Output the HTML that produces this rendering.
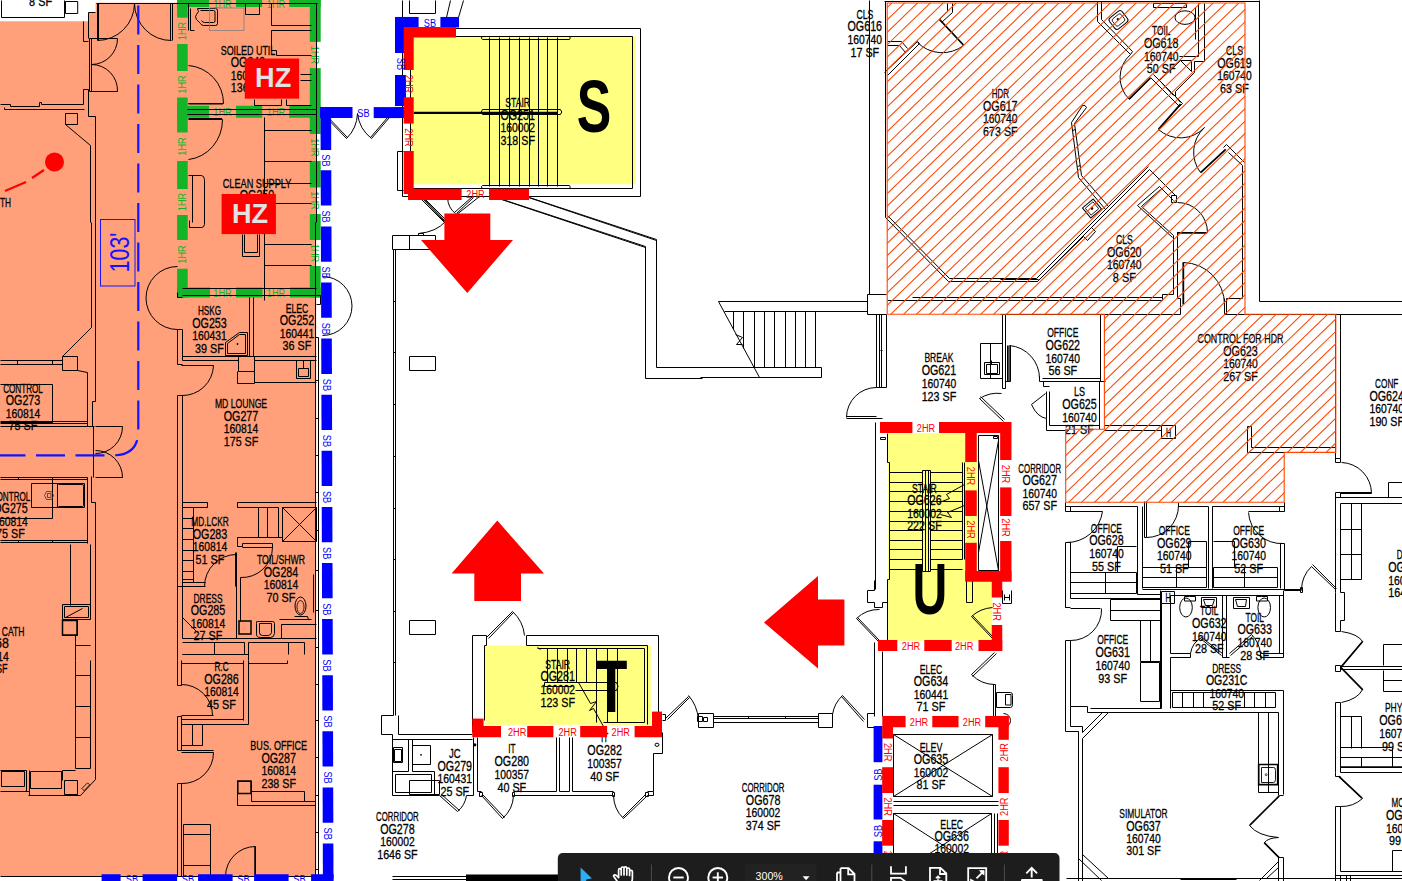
<!DOCTYPE html>
<html><head><meta charset="utf-8"><title>Floor plan</title>
<style>
html,body{margin:0;padding:0;background:#fff;overflow:hidden}
svg{display:block;font-family:"Liberation Sans",sans-serif}
</style></head><body>
<svg width="1402" height="881" viewBox="0 0 1402 881">
<defs>
<pattern id="hatch" patternUnits="userSpaceOnUse" width="12" height="12" x="0.9" y="0">
<path d="M-1 13 L13 -1 M-1 1 L1 -1 M11 13 L13 11" stroke="#ff4408" stroke-width="1" fill="none"/>
</pattern>
</defs>
<g id="p00_fills">
<polygon points="0,21.2 88,21.2 88,12.8 95.6,12.8 95.6,2.8 177,2.8 177,0 316.2,0 316.2,876.3 0,876.3" fill="#ffa07a" stroke="none" stroke-width="0" />
<rect x="410" y="36.2" width="225.8" height="148.1" fill="#ffff80" />
<rect x="484.8" y="645.5" width="166" height="79.3" fill="#ffff80" />
<rect x="888" y="433" width="104.2" height="207.7" fill="#ffff80" />
<rect x="976.8" y="433" width="23.4" height="138" fill="#fff" />
</g>
<g id="p05_green">
<line x1="182.4" y1="4.3" x2="182.4" y2="17.7" stroke="#14b428" stroke-width="10.6" />
<line x1="182.4" y1="44" x2="182.4" y2="71" stroke="#14b428" stroke-width="10.6" />
<line x1="182.4" y1="97.5" x2="182.4" y2="132.5" stroke="#14b428" stroke-width="10.6" />
<line x1="182.4" y1="161" x2="182.4" y2="189" stroke="#14b428" stroke-width="10.6" />
<line x1="182.4" y1="215" x2="182.4" y2="240" stroke="#14b428" stroke-width="10.6" />
<line x1="182.4" y1="268.7" x2="182.4" y2="297.5" stroke="#14b428" stroke-width="10.6" />
<line x1="315.25" y1="0" x2="315.25" y2="41.9" stroke="#14b428" stroke-width="10.9" />
<line x1="315.25" y1="68.1" x2="315.25" y2="134" stroke="#14b428" stroke-width="10.9" />
<line x1="315.25" y1="161" x2="315.25" y2="187.5" stroke="#14b428" stroke-width="10.9" />
<line x1="315.25" y1="214" x2="315.25" y2="240" stroke="#14b428" stroke-width="10.9" />
<line x1="315.25" y1="266" x2="315.25" y2="297.5" stroke="#14b428" stroke-width="10.9" />
<line x1="177.1" y1="3.5" x2="209.1" y2="3.5" stroke="#14b428" stroke-width="7" />
<line x1="236" y1="3.5" x2="262.2" y2="3.5" stroke="#14b428" stroke-width="7" />
<line x1="289.2" y1="3.5" x2="320.7" y2="3.5" stroke="#14b428" stroke-width="7" />
<line x1="177.1" y1="111.75" x2="209.1" y2="111.75" stroke="#14b428" stroke-width="12" />
<line x1="236" y1="111.75" x2="262.2" y2="111.75" stroke="#14b428" stroke-width="12" />
<line x1="289.2" y1="111.75" x2="320.7" y2="111.75" stroke="#14b428" stroke-width="12" />
<line x1="177.1" y1="292.5" x2="210" y2="292.5" stroke="#14b428" stroke-width="10" />
<line x1="236" y1="292.5" x2="262.5" y2="292.5" stroke="#14b428" stroke-width="10" />
<line x1="290" y1="292.5" x2="320.7" y2="292.5" stroke="#14b428" stroke-width="10" />
<text transform="translate(222.5 7.5) scale(0.8 1)" font-size="11.5" fill="#14b428" text-anchor="middle" font-weight="normal" >1HR</text>
<text transform="translate(222.5 115.75) scale(0.8 1)" font-size="11.5" fill="#14b428" text-anchor="middle" font-weight="normal" >1HR</text>
<text transform="translate(222.5 296.5) scale(0.8 1)" font-size="11.5" fill="#14b428" text-anchor="middle" font-weight="normal" >1HR</text>
<text transform="translate(276 7.5) scale(0.8 1)" font-size="11.5" fill="#14b428" text-anchor="middle" font-weight="normal" >1HR</text>
<text transform="translate(276 115.75) scale(0.8 1)" font-size="11.5" fill="#14b428" text-anchor="middle" font-weight="normal" >1HR</text>
<text transform="translate(276 296.5) scale(0.8 1)" font-size="11.5" fill="#14b428" text-anchor="middle" font-weight="normal" >1HR</text>
<text transform="translate(186.4 31) rotate(-90) scale(0.8 1)" font-size="11.5" fill="#14b428" text-anchor="middle" font-weight="normal" >1HR</text>
<text transform="translate(186.4 84.5) rotate(-90) scale(0.8 1)" font-size="11.5" fill="#14b428" text-anchor="middle" font-weight="normal" >1HR</text>
<text transform="translate(186.4 146.5) rotate(-90) scale(0.8 1)" font-size="11.5" fill="#14b428" text-anchor="middle" font-weight="normal" >1HR</text>
<text transform="translate(186.4 202) rotate(-90) scale(0.8 1)" font-size="11.5" fill="#14b428" text-anchor="middle" font-weight="normal" >1HR</text>
<text transform="translate(186.4 254.5) rotate(-90) scale(0.8 1)" font-size="11.5" fill="#14b428" text-anchor="middle" font-weight="normal" >1HR</text>
<text transform="translate(311.25 55) rotate(90) scale(0.8 1)" font-size="11.5" fill="#14b428" text-anchor="middle" font-weight="normal" >1HR</text>
<text transform="translate(311.25 147.5) rotate(90) scale(0.8 1)" font-size="11.5" fill="#14b428" text-anchor="middle" font-weight="normal" >1HR</text>
<text transform="translate(311.25 200.5) rotate(90) scale(0.8 1)" font-size="11.5" fill="#14b428" text-anchor="middle" font-weight="normal" >1HR</text>
<text transform="translate(311.25 253) rotate(90) scale(0.8 1)" font-size="11.5" fill="#14b428" text-anchor="middle" font-weight="normal" >1HR</text>
</g>
<g id="p10_w00">
<path d="M 1.5 0.5 V 17.5 H 64.5 V 0.5 M 65.5 1.5 h 12.2 v 12 h -12.2 z M 96.5 3.5 H 317.5 M 97.5 3.5 V 40.5 M 98.5 3.5 V 40.5 M 170.5 3.5 V 40.5 M 172.5 3.5 V 40.5 M 97.5 40.5 A 37.3 37.3 0 0 0 134.5 3.5 M 171.5 40.5 A 36.6 37.3 0 0 1 134.5 3.5 M 88.5 12.5 H 95.5 M 88.5 12.5 V 38.5 M 83.5 21.5 V 41.5 H 88.5 M 89.5 38.5 V 91.5 M 91.5 38.5 V 91.5 M 89.5 38.5 H 117.5 M 89.5 91.5 H 117.5 M 117.5 38.5 A 26 26 0 0 1 91.5 64.5 M 117.5 91.5 A 26 26 0 0 0 91.5 64.5 M 88.5 89.5 H 83.5 V 104.5 H 41.5 V 102.5 H 39.5 V 106.5 H 10.5 V 104.5 H 0.5 M 88.5 89.5 V 116.5 H 95.5 V 222.5 M 4.5 107.5 V 109.5 H 84.5 M 65.5 113.5 H 77.5 V 124.5 H 65.5 Z M 65.5 124.5 L 90.5 145.5 V 222.5 M 188.5 3.5 V 30.5 M 190.5 8.5 V 30.5 H 194.5 M 188.5 103.5 H 223.5 M 188.5 119.5 H 222.5 M 188.5 65.5 A 38 38 0 0 1 223.5 103.5 M 222.5 119.5 A 38 40 0 0 1 188.5 159.5 M 264.5 117.5 V 300.5 M 264.5 130.5 H 311.5 M 264.5 161.5 H 311.5 M 264.5 183.5 H 311.5 M 264.5 203.5 H 311.5 M 271.5 3.5 V 25.5 H 311.5 M 271.5 30.5 H 311.5 M 271.5 30.5 V 50.5 H 276.5 V 55.5 H 311.5 M 254.5 99.5 V 105.5 H 281.5 V 99.5 M 286.5 99.5 V 105.5 H 311.5 M 300.5 74.5 H 311.5 M 300.5 80.5 H 311.5 M 188.5 175.5 H 201.5 Q 204 175.5 204.5 179.5 V 222.5 M 192.5 175.5 V 222.5 M 316.5 3.5 V 222.5 M 245.5 3.5 V 14.5 H 259.5 V 3.5 M 187.5 109.5 H 316.5 M 187.5 114.5 H 316.5" fill="none" stroke="#000" stroke-width="1" />
<path d="M188.5 103.8 H223 M188.5 118.8 H222" fill="none" stroke="#000" stroke-width="1.6" />
<path d="M 197.5 8.5 h 18 q 2 0 2 2 v 13 q 0 2 -2 2 h -12 q -2 0 -3 -2 l -4 -4 q -2 -3 0 -5 l 2 -3 z M 200.5 10.5 h 13 q 1.5 0 1.5 1.5 v 9 q 0 1.5 -1.5 1.5 h -9 q -2 0 -3 -2" fill="none" stroke="#000" stroke-width="1" />
<rect x="209.5" y="8" width="34.5" height="22.5" fill="none" stroke="#808080" stroke-width="0.8" />
<text transform="translate(40.6 6.4) scale(0.839 1)" font-size="13" fill="#000" text-anchor="middle" font-weight="normal" stroke="#000" stroke-width="0.3">8 SF</text>
<text transform="translate(5.5 207) scale(0.639 1)" font-size="13" fill="#000" text-anchor="middle" font-weight="normal" stroke="#000" stroke-width="0.3">TH</text>
<text transform="translate(248 54.5) scale(0.688 1)" font-size="13" fill="#000" text-anchor="middle" font-weight="normal" stroke="#000" stroke-width="0.3">SOILED UTIL</text>
<text transform="translate(248 67) scale(0.735 1)" font-size="14.6" fill="#000" text-anchor="middle" font-weight="normal" stroke="#000" stroke-width="0.3">OG249</text>
<text transform="translate(248 79.5) scale(0.796 1)" font-size="13" fill="#000" text-anchor="middle" font-weight="normal" stroke="#000" stroke-width="0.3">160814</text>
<text transform="translate(248 92) scale(0.824 1)" font-size="13" fill="#000" text-anchor="middle" font-weight="normal" stroke="#000" stroke-width="0.3">136 SF</text>
<text transform="translate(257 187.5) scale(0.706 1)" font-size="13" fill="#000" text-anchor="middle" font-weight="normal" stroke="#000" stroke-width="0.3">CLEAN SUPPLY</text>
<text transform="translate(257 200) scale(0.735 1)" font-size="14.6" fill="#000" text-anchor="middle" font-weight="normal" stroke="#000" stroke-width="0.3">OG250</text>
</g>
<g id="p10_w01">
<path d="M 91.5 222.5 V 327.5 L 62.5 356.5 M 95.5 222.5 V 401.5 H 92.5 V 426.5 M 62.5 356.5 H 77.5 V 370.5 H 62.5 Z M 77.5 370.5 L 87.5 372.5 V 426.5 M 0.5 360.5 H 62.5 M 0.5 364.5 H 62.5 M 17.5 360.5 V 364.5 M 52.5 360.5 V 364.5 M 0.5 384.5 H 52.5 V 422.5 H 0.5 M 0.5 421.5 H 87.5 M 0.5 423.5 H 87.5 M 0.5 426.5 H 94.5 M 177.5 266.5 A 31.5 31.5 0 0 0 177.5 329.5 M 177.5 292.5 V 297.5 H 182.5 M 177.5 329.5 V 364.5 H 182.5 M 182.5 329.5 V 360.5 M 177.5 329.5 H 182.5 M 181.5 365.5 H 213.5 A 31 31 0 0 1 181.5 395.5 M 177.5 395.5 V 660.5 M 182.5 395.5 V 620.5 M 177.5 395.5 H 182.5 M 182.5 356.5 H 316.5 M 182.5 360.5 H 238.5 M 254.5 360.5 H 316.5 M 238.5 356.5 H 254.5 V 371.5 H 238.5 Z M 237.5 371.5 V 383.5 H 254.5 V 371.5 M 254.5 382.5 H 316.5 M 249.5 297.5 V 356.5 M 253.5 297.5 V 356.5 M 225.5 342.5 L 239.5 332.5 H 247.5 V 355.5 H 225.5 Z M 227.5 343.5 L 239.5 334.5 H 245.5 V 353.5 H 227.5 Z M 296.5 360.5 V 378.5 H 310.5 V 360.5 M 298.5 368.5 H 308.5 V 376.5 H 298.5 Z M 303.5 360.5 V 368.5 M 322.5 276.5 A 29.5 29.5 0 0 1 322.5 335.5 M 316.5 295.5 H 320.5 V 304.5 H 316.5 M 315.5 337.5 H 318.5 M 242.5 234.5 V 256.5 H 259.5 V 234.5 M 244.5 234.5 V 252.5 H 257.5 V 234.5 M 189.5 220.5 V 227.5 H 201.5 Q 204 227.5 204.5 224.5 V 220.5 M 182.5 288.5 H 316.5 M 182.5 295.5 H 316.5 M 264.5 244.5 H 311.5 M 264.5 265.5 H 311.5 M 264.5 220.5 V 286.5" fill="none" stroke="#000" stroke-width="1" />
<circle cx="237.5" cy="344" r="0.9" fill="#000"/>
<text transform="translate(209.5 315) scale(0.63 1)" font-size="13" fill="#000" text-anchor="middle" font-weight="normal" stroke="#000" stroke-width="0.3">HSKG</text>
<text transform="translate(209.5 327.5) scale(0.735 1)" font-size="14.6" fill="#000" text-anchor="middle" font-weight="normal" stroke="#000" stroke-width="0.3">OG253</text>
<text transform="translate(209.5 340) scale(0.796 1)" font-size="13" fill="#000" text-anchor="middle" font-weight="normal" stroke="#000" stroke-width="0.3">160431</text>
<text transform="translate(209.5 352.5) scale(0.83 1)" font-size="13" fill="#000" text-anchor="middle" font-weight="normal" stroke="#000" stroke-width="0.3">39 SF</text>
<text transform="translate(297 312.5) scale(0.669 1)" font-size="13" fill="#000" text-anchor="middle" font-weight="normal" stroke="#000" stroke-width="0.3">ELEC</text>
<text transform="translate(297 325) scale(0.735 1)" font-size="14.6" fill="#000" text-anchor="middle" font-weight="normal" stroke="#000" stroke-width="0.3">OG252</text>
<text transform="translate(297 337.5) scale(0.796 1)" font-size="13" fill="#000" text-anchor="middle" font-weight="normal" stroke="#000" stroke-width="0.3">160441</text>
<text transform="translate(297 350) scale(0.83 1)" font-size="13" fill="#000" text-anchor="middle" font-weight="normal" stroke="#000" stroke-width="0.3">36 SF</text>
<text transform="translate(241 408) scale(0.665 1)" font-size="13" fill="#000" text-anchor="middle" font-weight="normal" stroke="#000" stroke-width="0.3">MD LOUNGE</text>
<text transform="translate(241 420.5) scale(0.735 1)" font-size="14.6" fill="#000" text-anchor="middle" font-weight="normal" stroke="#000" stroke-width="0.3">OG277</text>
<text transform="translate(241 433) scale(0.796 1)" font-size="13" fill="#000" text-anchor="middle" font-weight="normal" stroke="#000" stroke-width="0.3">160814</text>
<text transform="translate(241 445.5) scale(0.824 1)" font-size="13" fill="#000" text-anchor="middle" font-weight="normal" stroke="#000" stroke-width="0.3">175 SF</text>
<text transform="translate(23 392.5) scale(0.626 1)" font-size="13" fill="#000" text-anchor="middle" font-weight="normal" stroke="#000" stroke-width="0.3">CONTROL</text>
<text transform="translate(23 405) scale(0.735 1)" font-size="14.6" fill="#000" text-anchor="middle" font-weight="normal" stroke="#000" stroke-width="0.3">OG273</text>
<text transform="translate(23 417.5) scale(0.796 1)" font-size="13" fill="#000" text-anchor="middle" font-weight="normal" stroke="#000" stroke-width="0.3">160814</text>
<text transform="translate(23 430) scale(0.83 1)" font-size="13" fill="#000" text-anchor="middle" font-weight="normal" stroke="#000" stroke-width="0.3">75 SF</text>
</g>
<g id="p10_w02">
<path d="M 95.5 426.5 H 122.5 A 27 27 0 0 1 95.5 453.5 M 95.5 477.5 H 122.5 A 27 27 0 0 0 95.5 450.5 M 93.5 426.5 V 477.5 M 87.5 477.5 V 543.5 M 91.5 476.5 V 502.5 H 95.5 V 779.5 M 70.5 544.5 V 605.5 M 90.5 544.5 V 605.5 M 0.5 477.5 H 87.5 M 0.5 479.5 H 87.5 M 18.5 477.5 V 479.5 M 52.5 477.5 V 479.5 M 0.5 540.5 H 87.5 M 0.5 542.5 H 87.5 M 18.5 540.5 V 542.5 M 52.5 540.5 V 542.5 M 0.5 518.5 H 52.5 V 479.5 M 31.5 483.5 H 84.5 V 507.5 H 31.5 Z M 57.5 483.5 V 507.5 M 58.5 484.5 H 82.5 Q 83.5 484 83.5 486.5 V 505.5 Q 83.5 506.5 82.5 506.5 H 58.5 M 62.5 604.5 H 90.5 V 619.5 H 62.5 Z M 65.5 617.5 L 82.5 608.5 M 64.5 606.5 H 88.5 V 617.5 H 64.5 Z M 62.5 620.5 H 77.5 V 635.5 H 62.5 Z M 75.5 635.5 V 660.5 M 75.5 645.5 H 90.5 M 182.5 440.5 V 502.5 H 207.5 V 507.5 H 182.5 V 582.5 H 205.5 M 177.5 586.5 H 205.5 M 193.5 507.5 V 582.5 M 182.5 518.5 H 193.5 M 182.5 528.5 H 193.5 M 182.5 539.5 H 193.5 M 182.5 550.5 H 193.5 M 182.5 560.5 H 193.5 M 182.5 571.5 H 193.5 M 182.5 579.5 H 193.5 M 204.5 586.5 A 32 32 0 0 1 236.5 554.5 M 235.5 552.5 V 586.5 M 236.5 552.5 V 638.5 M 240.5 577.5 V 621.5 M 237.5 502.5 H 316.5 M 237.5 507.5 H 258.5 M 237.5 502.5 V 507.5 M 258.5 507.5 V 537.5 M 267.5 507.5 V 537.5 M 278.5 507.5 V 537.5 M 258.5 507.5 H 278.5 M 282.5 507.5 H 316.5 V 541.5 H 282.5 Z M 282.5 507.5 L 316.5 541.5 M 316.5 507.5 L 282.5 541.5 M 237.5 537.5 H 282.5 M 237.5 537.5 V 546.5 H 242.5 V 543.5 H 272.5 V 547.5 H 242.5 M 272.5 547.5 A 30.5 30.5 0 0 1 240.5 577.5 M 279.5 619.5 H 311.5 M 281.5 624.5 H 316.5 M 281.5 624.5 V 638.5 M 313.5 574.5 V 612.5 M 315.5 574.5 V 612.5 M 182.5 638.5 H 316.5 M 182.5 642.5 H 244.5 V 654.5 H 182.5 M 214.5 642.5 V 654.5 M 248.5 642.5 H 304.5 V 654.5 M 248.5 642.5 V 660.5 M 288.5 642.5 V 654.5 M 182.5 654.5 H 248.5 M 182.5 617.5 L 197.5 632.5 M 182.5 586.5 V 638.5" fill="none" stroke="#000" stroke-width="1" />
<path d="M239 621 H251 V634 H239 Z M62.5 620.5 H77 V635 H62.5 Z" fill="none" stroke="#000" stroke-width="1.5" />
<ellipse cx="300.5" cy="606" rx="5.5" ry="9" fill="none" stroke="#000"/>
<ellipse cx="300.5" cy="607" rx="3.5" ry="6.5" fill="none" stroke="#000" stroke-width="0.8"/>
<path d="M 294.5 616.5 H 307.5 L 308.5 619.5 M 257.5 621.5 H 272.5 Q 274 621 274.5 623.5 V 633.5 Q 274 637.5 270.5 637.5 H 260.5 Q 256 637.5 256.5 633.5 V 623.5 Q 256 621 257.5 621.5 Z M 259.5 623.5 H 271.5 V 632.5 Q 271 635 268.5 635.5 H 262.5 Q 259 635 259.5 632.5 Z" fill="none" stroke="#000" stroke-width="1" />
<path d="M 44.5 495.5 L 46.5 491.5 H 51.5 L 53.5 495.5 L 51.5 499.5 H 46.5 Z M 47.5 493.5 h 3.5 v 4 h -3.5 z" fill="none" stroke="#333" stroke-width="0.8" />
<text transform="translate(10.5 501) scale(0.626 1)" font-size="13" fill="#000" text-anchor="middle" font-weight="normal" stroke="#000" stroke-width="0.3">CONTROL</text>
<text transform="translate(10.5 513.4) scale(0.735 1)" font-size="14.6" fill="#000" text-anchor="middle" font-weight="normal" stroke="#000" stroke-width="0.3">OG275</text>
<text transform="translate(10.5 525.8) scale(0.796 1)" font-size="13" fill="#000" text-anchor="middle" font-weight="normal" stroke="#000" stroke-width="0.3">160814</text>
<text transform="translate(10.5 538.2) scale(0.83 1)" font-size="13" fill="#000" text-anchor="middle" font-weight="normal" stroke="#000" stroke-width="0.3">75 SF</text>
<text transform="translate(24.5 635.5) scale(0.663 1)" font-size="13" fill="#000" text-anchor="end" font-weight="normal" stroke="#000" stroke-width="0.3">CATH</text>
<text transform="translate(8.8 648) scale(0.853 1)" font-size="14.6" fill="#000" text-anchor="end" font-weight="normal" stroke="#000" stroke-width="0.3">68</text>
<text transform="translate(8.8 660.5) scale(0.798 1)" font-size="13" fill="#000" text-anchor="end" font-weight="normal" stroke="#000" stroke-width="0.3">14</text>
<text transform="translate(210 526) scale(0.643 1)" font-size="13" fill="#000" text-anchor="middle" font-weight="normal" stroke="#000" stroke-width="0.3">MD.LCKR</text>
<text transform="translate(210 538.5) scale(0.735 1)" font-size="14.6" fill="#000" text-anchor="middle" font-weight="normal" stroke="#000" stroke-width="0.3">OG283</text>
<text transform="translate(210 551) scale(0.796 1)" font-size="13" fill="#000" text-anchor="middle" font-weight="normal" stroke="#000" stroke-width="0.3">160814</text>
<text transform="translate(210 563.5) scale(0.83 1)" font-size="13" fill="#000" text-anchor="middle" font-weight="normal" stroke="#000" stroke-width="0.3">51 SF</text>
<text transform="translate(281 564) scale(0.668 1)" font-size="13" fill="#000" text-anchor="middle" font-weight="normal" stroke="#000" stroke-width="0.3">TOIL/SHWR</text>
<text transform="translate(281 576.5) scale(0.735 1)" font-size="14.6" fill="#000" text-anchor="middle" font-weight="normal" stroke="#000" stroke-width="0.3">OG284</text>
<text transform="translate(281 589) scale(0.796 1)" font-size="13" fill="#000" text-anchor="middle" font-weight="normal" stroke="#000" stroke-width="0.3">160814</text>
<text transform="translate(281 601.5) scale(0.83 1)" font-size="13" fill="#000" text-anchor="middle" font-weight="normal" stroke="#000" stroke-width="0.3">70 SF</text>
<text transform="translate(208 602.5) scale(0.65 1)" font-size="13" fill="#000" text-anchor="middle" font-weight="normal" stroke="#000" stroke-width="0.3">DRESS</text>
<text transform="translate(208 615) scale(0.735 1)" font-size="14.6" fill="#000" text-anchor="middle" font-weight="normal" stroke="#000" stroke-width="0.3">OG285</text>
<text transform="translate(208 627.5) scale(0.796 1)" font-size="13" fill="#000" text-anchor="middle" font-weight="normal" stroke="#000" stroke-width="0.3">160814</text>
<text transform="translate(208 640) scale(0.83 1)" font-size="13" fill="#000" text-anchor="middle" font-weight="normal" stroke="#000" stroke-width="0.3">27 SF</text>
</g>
<g id="p10_w03">
<path d="M 75.5 660.5 V 768.5 M 90.5 660.5 V 768.5 M 95.5 779.5 L 80.5 795.5 M 75.5 675.5 H 90.5 M 75.5 706.5 H 90.5 M 75.5 737.5 H 90.5 M 75.5 768.5 H 90.5 M 1.5 771.5 H 24.5 V 786.5 H 1.5 Z M 30.5 771.5 H 61.5 V 788.5 H 30.5 Z M 64.5 780.5 H 77.5 V 794.5 H 64.5 Z M 62.5 770.5 H 75.5 M 62.5 770.5 V 780.5 M 28.5 795.5 H 80.5 M 0.5 791.5 H 29.5 M 26.5 770.5 V 791.5 M 29.5 770.5 V 795.5 M 0.5 770.5 H 26.5 M 177.5 660.5 V 685.5 H 181.5 M 181.5 660.5 V 685.5 M 181.5 684.5 A 31 31 0 0 1 212.5 715.5 M 177.5 716.5 V 750.5 H 181.5 M 181.5 716.5 V 750.5 M 177.5 716.5 H 181.5 M 181.5 715.5 H 213.5 M 181.5 719.5 H 243.5 M 181.5 724.5 H 248.5 M 181.5 752.5 H 213.5 M 181.5 750.5 H 213.5 M 213.5 752.5 A 31 31 0 0 1 181.5 783.5 M 177.5 783.5 V 876.5 M 181.5 783.5 V 876.5 M 177.5 783.5 H 181.5 M 243.5 660.5 V 720.5 M 248.5 660.5 V 724.5 M 181.5 663.5 H 243.5 M 248.5 663.5 H 287.5 V 660.5 M 181.5 724.5 V 745.5 H 202.5 V 724.5 M 192.5 724.5 V 745.5 M 237.5 781.5 H 251.5 V 793.5 H 237.5 M 251.5 791.5 H 304.5 V 801.5 M 251.5 793.5 V 801.5 H 315.5 M 237.5 781.5 V 805.5 H 315.5 M 183.5 824.5 H 210.5 V 876.5 M 183.5 824.5 V 876.5 M 183.5 834.5 H 210.5 M 183.5 865.5 H 210.5 M 255.5 846.5 V 876.5 M 255.5 846.5 A 30 30 0 0 0 225.5 876.5 M 0.5 876.5 H 331.5 M 315.5 222.5 V 876.5 M 318.5 337.5 V 876.5" fill="none" stroke="#000" stroke-width="1" />
<path d="M255 846.4 V876 M237.8 781 H251 V793.5 H237.8 Z" fill="none" stroke="#000" stroke-width="1.5" />
<path d="M 315.5 380.5 H 318.5 M 315.5 418.5 H 318.5 M 315.5 455.5 H 318.5 M 315.5 492.5 H 318.5 M 315.5 530.5 H 318.5 M 315.5 570.5 H 318.5 M 315.5 610.5 H 318.5 M 315.5 647.5 H 318.5 M 315.5 684.5 H 318.5 M 315.5 720.5 H 318.5 M 315.5 757.5 H 318.5 M 315.5 795.5 H 318.5 M 315.5 832.5 H 318.5 M 315.5 869.5 H 318.5" fill="none" stroke="#000" stroke-width="1" />
<rect x="-4" y="-1.5" width="8" height="3" fill="none" stroke="#000" stroke-width="0.8" transform="translate(85.8 786.7) rotate(-45)"/>
<text transform="translate(7.5 672.5) scale(0.699 1)" font-size="13" fill="#000" text-anchor="end" font-weight="normal" stroke="#000" stroke-width="0.3">SF</text>
<text transform="translate(221.5 671.3) scale(0.626 1)" font-size="13" fill="#000" text-anchor="middle" font-weight="normal" stroke="#000" stroke-width="0.3">R.C</text>
<text transform="translate(221.5 683.8) scale(0.735 1)" font-size="14.6" fill="#000" text-anchor="middle" font-weight="normal" stroke="#000" stroke-width="0.3">OG286</text>
<text transform="translate(221.5 696.3) scale(0.796 1)" font-size="13" fill="#000" text-anchor="middle" font-weight="normal" stroke="#000" stroke-width="0.3">160814</text>
<text transform="translate(221.5 708.8) scale(0.83 1)" font-size="13" fill="#000" text-anchor="middle" font-weight="normal" stroke="#000" stroke-width="0.3">45 SF</text>
<text transform="translate(278.7 749.8) scale(0.695 1)" font-size="13" fill="#000" text-anchor="middle" font-weight="normal" stroke="#000" stroke-width="0.3">BUS. OFFICE</text>
<text transform="translate(278.7 762.6) scale(0.735 1)" font-size="14.6" fill="#000" text-anchor="middle" font-weight="normal" stroke="#000" stroke-width="0.3">OG287</text>
<text transform="translate(278.7 775.4) scale(0.796 1)" font-size="13" fill="#000" text-anchor="middle" font-weight="normal" stroke="#000" stroke-width="0.3">160814</text>
<text transform="translate(278.7 788.2) scale(0.824 1)" font-size="13" fill="#000" text-anchor="middle" font-weight="normal" stroke="#000" stroke-width="0.3">238 SF</text>
</g>
<g id="p10_w10">
<path d="M 402.5 0.5 V 196.5 M 409.5 0.5 V 13.5 H 435.5 V 0.5 M 450.5 0.5 L 446.5 17.5 M 463.5 0.5 L 458.5 17.5 M 402.5 28.5 H 640.5 V 196.5 H 402.5 M 410.5 36.5 H 632.5 V 188.5 H 410.5 Z M 397.5 151.5 H 403.5 M 397.5 151.5 V 190.5 H 403.5 M 489.5 37.5 V 186.5 M 499.5 37.5 V 186.5 M 509.5 37.5 V 186.5 M 519.5 37.5 V 186.5 M 529.5 37.5 V 186.5 M 538.5 37.5 V 186.5 M 547.5 37.5 V 186.5 M 557.5 37.5 V 186.5 M 482.5 36.5 H 569.5 Q 571 38 569.5 39.5 H 482.5 Q 480 38 482.5 36.5 Z M 482.5 185.5 H 569.5 Q 571 186.8 569.5 188.5 H 482.5 Q 480 186.8 482.5 185.5 Z M 482.5 109.5 H 560.5 Q 563 112 560.5 114.5 H 482.5 Q 480 112 482.5 109.5 Z M 320.5 111.5 L 346.5 138.5 A 37 37 0 0 0 357.5 113.5 M 394.5 111.5 L 371.5 138.5 A 37 37 0 0 1 357.5 113.5 M 321.5 110.5 L 347.5 137.5 M 393.5 110.5 L 370.5 137.5 M 419.5 197.5 L 445.5 223.5 M 421.5 196.5 L 446.5 222.5 M 479.5 196.5 L 455.5 215.5 M 528.5 197.5 L 656.5 240.5 M 501.5 199.5 L 645.5 247.5" fill="none" stroke="#000" stroke-width="1" />
<path d="M413.7 112.8 H557" fill="none" stroke="#000" stroke-width="2.2" />
<text transform="translate(517.7 106.6) scale(0.665 1)" font-size="13" fill="#000" text-anchor="middle" font-weight="normal" stroke="#000" stroke-width="0.3">STAIR</text>
<text transform="translate(517.7 119.5) scale(0.735 1)" font-size="14.6" fill="#000" text-anchor="middle" font-weight="normal" stroke="#000" stroke-width="0.3">OG251</text>
<text transform="translate(517.7 132.4) scale(0.796 1)" font-size="13" fill="#000" text-anchor="middle" font-weight="normal" stroke="#000" stroke-width="0.3">160002</text>
<text transform="translate(517.7 145.3) scale(0.824 1)" font-size="13" fill="#000" text-anchor="middle" font-weight="normal" stroke="#000" stroke-width="0.3">318 SF</text>
</g>
<g id="p10_w11">
<path d="M 529.5 197.5 L 656.5 239.5 V 367.5 H 702.5 M 499.5 198.5 L 645.5 246.5 V 378.5 H 702.5 M 421.5 197.5 L 444.5 221.5 M 422.5 196.5 L 446.5 220.5 M 472.5 196.5 L 454.5 212.5 M 473.5 197.5 L 456.5 213.5 M 418.5 233.5 Q 436 232 445.5 221.5 M 447.5 197.5 Q 448 208 455.5 213.5 M 392.5 235.5 H 435.5 V 249.5 H 392.5 Z M 409.5 235.5 V 249.5 M 418.5 235.5 V 233.5 H 423.5 V 235.5 M 393.5 249.5 V 715.5 M 395.5 249.5 V 715.5 M 409.5 356.5 H 435.5 V 370.5 H 409.5 Z M 409.5 620.5 H 435.5 V 634.5 H 409.5 Z M 393.5 715.5 H 381.5 V 734.5 H 392.5 V 795.5 M 398.5 715.5 V 734.5 H 472.5 M 392.5 739.5 H 472.5 M 408.5 739.5 V 771.5 M 412.5 739.5 V 771.5 M 392.5 771.5 H 408.5 M 412.5 771.5 H 434.5 V 795.5 M 395.5 774.5 H 431.5 V 792.5 H 395.5 Z M 409.5 780.5 H 439.5 V 794.5 H 409.5 Z M 392.5 795.5 H 439.5 M 392.5 876.5 H 466.5 M 392.5 879.5 H 466.5 M 412.5 745.5 H 430.5 V 764.5 H 412.5 Z M 393.5 747.5 H 402.5 V 762.5 H 393.5 Z M 394.5 749.5 H 401.5 V 761.5 H 394.5 Z M 439.5 795.5 L 457.5 811.5 A 25.5 25.5 0 0 0 466.5 795.5 M 441.5 794.5 L 459.5 810.5 M 466.5 795.5 H 473.5 V 737.5 M 472.5 732.5 V 635.5 H 486.5 V 645.5 H 484.5 V 720.5 M 486.5 637.5 L 512.5 611.5 M 488.5 638.5 L 513.5 612.5 M 512.5 611.5 A 37 37 0 0 1 524.5 635.5 M 526.5 645.5 V 635.5 H 658.5 V 712.5 M 526.5 645.5 H 647.5 V 724.5 M 537.5 648.5 H 644.5 V 722.5 H 603.5 M 477.5 737.5 V 791.5 H 481.5 M 513.5 791.5 H 556.5 V 737.5 M 559.5 737.5 V 791.5 H 569.5 V 737.5 M 572.5 737.5 V 791.5 H 613.5 M 647.5 791.5 H 653.5 V 753.5 H 662.5 V 732.5 M 513.5 795.5 H 613.5 M 647.5 795.5 H 653.5 V 791.5 M 481.5 795.5 L 502.5 818.5 A 32 32 0 0 0 513.5 795.5 M 482.5 794.5 L 504.5 817.5 M 647.5 795.5 L 623.5 818.5 A 33 33 0 0 1 613.5 795.5 M 645.5 794.5 L 622.5 817.5 M 479.5 792.5 H 482.5 V 796.5 H 479.5 Z M 512.5 792.5 H 514.5 V 796.5 H 512.5 Z M 612.5 792.5 H 614.5 V 796.5 H 612.5 Z M 645.5 792.5 H 648.5 V 796.5 H 645.5 Z M 665.5 718.5 L 688.5 696.5 M 667.5 719.5 L 689.5 697.5 M 688.5 695.5 Q 697 705 698.5 719.5 M 662.5 714.5 H 665.5 V 720.5 H 662.5 M 697.5 716.5 H 702.5 V 721.5 H 697.5 Z M 393.5 301.5 H 395.5 M 393.5 352.5 H 395.5 M 393.5 404.5 H 395.5 M 393.5 456.5 H 395.5 M 393.5 508.5 H 395.5 M 393.5 559.5 H 395.5 M 393.5 611.5 H 395.5 M 393.5 662.5 H 395.5 M 547.5 648.5 V 682.5 M 557.5 648.5 V 682.5 M 567.5 648.5 V 682.5 M 576.5 648.5 V 682.5 M 586.5 648.5 V 682.5 M 596.5 648.5 V 722.5 M 607.5 648.5 V 722.5 M 617.5 648.5 V 722.5 M 544.5 682.5 H 616.5 Q 619.5 686 616.5 690.5 H 575.5 M 544.5 682.5 V 686.5 H 572.5 M 537.5 647.5 L 540.5 649.5 M 578.5 682.5 L 590.5 703.5 L 596.5 701.5 L 589.5 710.5 L 593.5 708.5 L 603.5 726.5" fill="none" stroke="#000" stroke-width="1" />
<circle cx="421" cy="754.8" r="0.9"/><circle cx="474.8" cy="744.8" r="1.6"/><ellipse cx="657" cy="744.8" rx="2" ry="1.6" fill="none" stroke="#000"/>
<text transform="translate(557.7 668.7) scale(0.665 1)" font-size="13" fill="#000" text-anchor="middle" font-weight="normal" stroke="#000" stroke-width="0.3">STAIR</text>
<text transform="translate(557.7 681.4) scale(0.735 1)" font-size="14.6" fill="#000" text-anchor="middle" font-weight="normal" stroke="#000" stroke-width="0.3">OG281</text>
<text transform="translate(557.7 694.1) scale(0.796 1)" font-size="13" fill="#000" text-anchor="middle" font-weight="normal" stroke="#000" stroke-width="0.3">160002</text>
<text transform="translate(557.7 706.8) scale(0.824 1)" font-size="13" fill="#000" text-anchor="middle" font-weight="normal" stroke="#000" stroke-width="0.3">123 SF</text>
<text transform="translate(454.8 757.8) scale(0.733 1)" font-size="13" fill="#000" text-anchor="middle" font-weight="normal" stroke="#000" stroke-width="0.3">JC</text>
<text transform="translate(454.8 770.6) scale(0.735 1)" font-size="14.6" fill="#000" text-anchor="middle" font-weight="normal" stroke="#000" stroke-width="0.3">OG279</text>
<text transform="translate(454.8 783.4) scale(0.796 1)" font-size="13" fill="#000" text-anchor="middle" font-weight="normal" stroke="#000" stroke-width="0.3">160431</text>
<text transform="translate(454.8 796.2) scale(0.83 1)" font-size="13" fill="#000" text-anchor="middle" font-weight="normal" stroke="#000" stroke-width="0.3">25 SF</text>
<text transform="translate(511.8 752.5) scale(0.624 1)" font-size="13" fill="#000" text-anchor="middle" font-weight="normal" stroke="#000" stroke-width="0.3">IT</text>
<text transform="translate(511.8 765.5) scale(0.735 1)" font-size="14.6" fill="#000" text-anchor="middle" font-weight="normal" stroke="#000" stroke-width="0.3">OG280</text>
<text transform="translate(511.8 778.5) scale(0.796 1)" font-size="13" fill="#000" text-anchor="middle" font-weight="normal" stroke="#000" stroke-width="0.3">100357</text>
<text transform="translate(511.8 791.5) scale(0.83 1)" font-size="13" fill="#000" text-anchor="middle" font-weight="normal" stroke="#000" stroke-width="0.3">40 SF</text>
<text transform="translate(604.6 742.3) scale(0.624 1)" font-size="13" fill="#000" text-anchor="middle" font-weight="normal" stroke="#000" stroke-width="0.3">IT</text>
<text transform="translate(604.6 755.1) scale(0.735 1)" font-size="14.6" fill="#000" text-anchor="middle" font-weight="normal" stroke="#000" stroke-width="0.3">OG282</text>
<text transform="translate(604.6 767.9) scale(0.796 1)" font-size="13" fill="#000" text-anchor="middle" font-weight="normal" stroke="#000" stroke-width="0.3">100357</text>
<text transform="translate(604.6 780.7) scale(0.83 1)" font-size="13" fill="#000" text-anchor="middle" font-weight="normal" stroke="#000" stroke-width="0.3">40 SF</text>
<text transform="translate(397.4 821) scale(0.604 1)" font-size="13" fill="#000" text-anchor="middle" font-weight="normal" stroke="#000" stroke-width="0.3">CORRIDOR</text>
<text transform="translate(397.4 833.7) scale(0.735 1)" font-size="14.6" fill="#000" text-anchor="middle" font-weight="normal" stroke="#000" stroke-width="0.3">OG278</text>
<text transform="translate(397.4 846.4) scale(0.796 1)" font-size="13" fill="#000" text-anchor="middle" font-weight="normal" stroke="#000" stroke-width="0.3">160002</text>
<text transform="translate(397.4 859.1) scale(0.819 1)" font-size="13" fill="#000" text-anchor="middle" font-weight="normal" stroke="#000" stroke-width="0.3">1646 SF</text>
</g>
<g id="p10_w20">
<path d="M 869.5 0.5 V 294.5 M 884.5 1.5 H 1259.5 M 1259.5 0.5 V 301.5 H 1402.5 M 1244.5 314.5 H 1402.5 M 1340.5 314.5 V 330.5 M 885.5 1.5 V 217.5 L 948.5 281.5 H 1037.5 L 1149.5 169.5 L 1175.5 195.5 M 887.5 215.5 L 949.5 278.5 H 1036.5 L 1148.5 166.5 M 912.5 297.5 H 1162.5 M 887.5 300.5 H 1162.5 V 294.5 H 1173.5 V 235.5 M 1177.5 232.5 V 298.5 H 1180.5 V 314.5 M 1000.5 314.5 H 1180.5 M 1224.5 314.5 H 1244.5 M 884.5 72.5 L 917.5 41.5 M 887.5 75.5 L 919.5 43.5 L 917.5 41.5 M 887.5 41.5 H 901.5 L 907.5 48.5 M 887.5 45.5 H 899.5 L 905.5 52.5 M 947.5 3.5 V 11.5 L 939.5 19.5 M 952.5 3.5 V 12.5 L 941.5 22.5 M 963.5 45.5 A 35 35 0 0 1 917.5 42.5 M 1097.5 1.5 V 21.5 L 1130.5 54.5 M 1101.5 1.5 V 19.5 L 1132.5 51.5 L 1130.5 54.5 M 1198.5 3.5 V 56.5 H 1179.5 M 1204.5 3.5 V 61.5 H 1194.5 V 72.5 L 1175.5 91.5 V 96.5 L 1180.5 102.5 M 1180.5 60.5 H 1191.5 V 71.5 Z M 1180.5 60.5 L 1159.5 80.5 L 1173.5 95.5 M 1150.5 77.5 L 1179.5 106.5 M 1153.5 74.5 L 1182.5 103.5 L 1179.5 106.5 M 1129.5 99.5 A 30.5 30.5 0 0 1 1130.5 54.5 M 1158.5 129.5 A 33 33 0 0 0 1204.5 127.5 M 1200.5 172.5 A 33.5 33.5 0 0 1 1204.5 127.5 M 1223.5 147.5 L 1226.5 144.5 L 1244.5 162.5 M 1228.5 152.5 L 1242.5 165.5 V 298.5 H 1226.5 V 314.5 M 1224.5 298.5 V 314.5 M 1082.5 105.5 L 1071.5 122.5 L 1078.5 177.5 L 1105.5 209.5 M 1086.5 107.5 L 1074.5 123.5 L 1081.5 175.5 L 1108.5 206.5 M 1082.5 105.5 Q 1085.5 104.5 1086.5 107.5 M 1072.5 130.5 L 1075.5 129.5 M 1077.5 166.5 L 1080.5 165.5 M 1037.5 281.5 L 1083.5 236.5 L 1087.5 240.5 L 1095.5 231.5 L 1091.5 227.5 L 1147.5 171.5 M 1000.5 279.5 H 1038.5 M 1000.5 281.5 H 1037.5 M 1159.5 186.5 L 1137.5 205.5 L 1172.5 237.5 M 1160.5 189.5 L 1141.5 206.5 L 1173.5 235.5 M 1159.5 186.5 L 1173.5 200.5 M 1171.5 195.5 H 1176.5 V 202.5 H 1171.5 Z M 1207.5 232.5 A 30 30 0 0 0 1177.5 202.5 M 1183.5 262.5 A 42 42 0 0 1 1224.5 304.5 M 1153.5 3.5 H 1186.5 V 7.5 H 1153.5 Z M 1195.5 7.5 V 39.5 M 1198.5 7.5 V 39.5" fill="none" stroke="#000" stroke-width="1" />
<path d="M939.6 19.5 L963.4 45 M1150.4 77.8 L1129.1 99.2 M1180.6 104.2 L1158.5 129.3 M1225.7 149.4 L1200.6 172.7 M1177 232.9 H1207.1 M1183.3 262.2 V304.4" fill="none" stroke="#000" stroke-width="1.8" />
<g transform="translate(1118.5 20) rotate(-38)" fill="none" stroke="#000"><rect x="-8" y="-7" width="16" height="14" rx="3"/><rect x="-5.5" y="-4.5" width="11" height="9" rx="2" stroke-width="0.8"/><circle cx="0" cy="-1" r="0.7" fill="#000"/></g>
<g transform="translate(1092 208.5) rotate(-40)" fill="none" stroke="#000"><rect x="-7" y="-6.5" width="14" height="13"/><rect x="-5" y="-4.5" width="10" height="9" stroke-width="0.8"/><circle cx="0" cy="0" r="0.8" fill="#000"/></g>
<ellipse cx="1185" cy="17.6" rx="10" ry="6.8" fill="none" stroke="#000"/>
<text transform="translate(864.8 18.7) scale(0.667 1)" font-size="13" fill="#000" text-anchor="middle" font-weight="normal" stroke="#000" stroke-width="0.3">CLS</text>
<text transform="translate(864.8 31.3) scale(0.735 1)" font-size="14.6" fill="#000" text-anchor="middle" font-weight="normal" stroke="#000" stroke-width="0.3">OG616</text>
<text transform="translate(864.8 43.9) scale(0.796 1)" font-size="13" fill="#000" text-anchor="middle" font-weight="normal" stroke="#000" stroke-width="0.3">160740</text>
<text transform="translate(864.8 56.5) scale(0.83 1)" font-size="13" fill="#000" text-anchor="middle" font-weight="normal" stroke="#000" stroke-width="0.3">17 SF</text>
<text transform="translate(1000.3 97.9) scale(0.616 1)" font-size="13" fill="#000" text-anchor="middle" font-weight="normal" stroke="#000" stroke-width="0.3">HDR</text>
<text transform="translate(1000.3 110.5) scale(0.735 1)" font-size="14.6" fill="#000" text-anchor="middle" font-weight="normal" stroke="#000" stroke-width="0.3">OG617</text>
<text transform="translate(1000.3 123.1) scale(0.796 1)" font-size="13" fill="#000" text-anchor="middle" font-weight="normal" stroke="#000" stroke-width="0.3">160740</text>
<text transform="translate(1000.3 135.7) scale(0.824 1)" font-size="13" fill="#000" text-anchor="middle" font-weight="normal" stroke="#000" stroke-width="0.3">673 SF</text>
<text transform="translate(1161.2 35.1) scale(0.642 1)" font-size="13" fill="#000" text-anchor="middle" font-weight="normal" stroke="#000" stroke-width="0.3">TOIL</text>
<text transform="translate(1161.2 47.8) scale(0.735 1)" font-size="14.6" fill="#000" text-anchor="middle" font-weight="normal" stroke="#000" stroke-width="0.3">OG618</text>
<text transform="translate(1161.2 60.5) scale(0.796 1)" font-size="13" fill="#000" text-anchor="middle" font-weight="normal" stroke="#000" stroke-width="0.3">160740</text>
<text transform="translate(1161.2 73.2) scale(0.83 1)" font-size="13" fill="#000" text-anchor="middle" font-weight="normal" stroke="#000" stroke-width="0.3">50 SF</text>
<text transform="translate(1234.5 55.2) scale(0.667 1)" font-size="13" fill="#000" text-anchor="middle" font-weight="normal" stroke="#000" stroke-width="0.3">CLS</text>
<text transform="translate(1234.5 67.8) scale(0.735 1)" font-size="14.6" fill="#000" text-anchor="middle" font-weight="normal" stroke="#000" stroke-width="0.3">OG619</text>
<text transform="translate(1234.5 80.4) scale(0.796 1)" font-size="13" fill="#000" text-anchor="middle" font-weight="normal" stroke="#000" stroke-width="0.3">160740</text>
<text transform="translate(1234.5 93) scale(0.83 1)" font-size="13" fill="#000" text-anchor="middle" font-weight="normal" stroke="#000" stroke-width="0.3">63 SF</text>
<text transform="translate(1124.3 244.2) scale(0.667 1)" font-size="13" fill="#000" text-anchor="middle" font-weight="normal" stroke="#000" stroke-width="0.3">CLS</text>
<text transform="translate(1124.3 256.8) scale(0.735 1)" font-size="14.6" fill="#000" text-anchor="middle" font-weight="normal" stroke="#000" stroke-width="0.3">OG620</text>
<text transform="translate(1124.3 269.4) scale(0.796 1)" font-size="13" fill="#000" text-anchor="middle" font-weight="normal" stroke="#000" stroke-width="0.3">160740</text>
<text transform="translate(1124.3 282) scale(0.839 1)" font-size="13" fill="#000" text-anchor="middle" font-weight="normal" stroke="#000" stroke-width="0.3">8 SF</text>
</g>
<g id="p10_w21">
<path d="M 867.5 294.5 H 886.5 M 867.5 294.5 V 314.5 H 886.5 M 718.5 301.5 H 867.5 M 718.5 301.5 L 759.5 377.5 M 724.5 311.5 H 867.5 M 700.5 367.5 H 821.5 V 377.5 H 700.5 M 735.5 334.5 L 742.5 337.5 L 736.5 344.5 L 742.5 344.5 M 876.5 314.5 V 387.5 H 886.5 V 314.5 M 879.5 314.5 V 387.5 M 881.5 314.5 V 387.5 M 880.5 350.5 H 882.5 M 876.5 387.5 A 30 30 0 0 0 846.5 417.5 M 846.5 418.5 H 882.5 M 846.5 416.5 H 876.5 M 1002.5 314.5 V 388.5 H 1005.5 V 314.5 M 980.5 343.5 H 1002.5 M 980.5 343.5 V 378.5 H 1002.5 M 990.5 343.5 V 378.5 M 984.5 362.5 H 999.5 V 374.5 H 984.5 Z M 986.5 364.5 H 997.5 V 373.5 H 986.5 Z M 991.5 360.5 V 364.5 M 1007.5 345.5 V 381.5 M 1010.5 345.5 V 381.5 H 1005.5 M 1009.5 345.5 A 33 33 0 0 1 1039.5 378.5 M 1039.5 376.5 V 381.5 H 1105.5 M 1042.5 378.5 H 1100.5 M 1043.5 381.5 V 386.5 H 1049.5 M 1100.5 314.5 V 381.5 M 979.5 398.5 L 1003.5 421.5 M 980.5 396.5 L 1004.5 419.5 M 979.5 398.5 Q 990 392 1001.5 393.5 M 1045.5 393.5 L 1031.5 404.5 Q 1037 417 1046.5 418.5 M 1046.5 391.5 V 418.5 M 1046.5 418.5 V 430.5 H 1066.5 M 1049.5 391.5 V 425.5 H 1099.5 M 1099.5 381.5 V 429.5 M 1104.5 425.5 H 1161.5 M 1104.5 430.5 H 1161.5 M 1161.5 425.5 H 1175.5 V 438.5 H 1161.5 Z M 1247.5 426.5 V 452.5 H 1284.5 M 1247.5 426.5 H 1251.5 V 447.5 H 1335.5 M 1335.5 314.5 V 462.5 M 1340.5 330.5 V 458.5 M 1335.5 458.5 H 1340.5 V 462.5 H 1335.5 M 1335.5 492.5 H 1340.5 V 497.5 H 1335.5 Z M 1341.5 462.5 A 31 31 0 0 1 1371.5 493.5 M 1340.5 493.5 H 1371.5 M 1340.5 492.5 H 1371.5 M 1335.5 497.5 H 1402.5 M 1388.5 497.5 V 482.5 H 1402.5 M 1335.5 497.5 V 592.5 M 1340.5 503.5 V 592.5 M 1340.5 503.5 H 1402.5 M 1351.5 503.5 V 579.5 M 1361.5 503.5 V 579.5 M 1340.5 529.5 H 1361.5 M 1340.5 554.5 H 1361.5 M 1340.5 579.5 H 1361.5 M 733.5 311.5 V 329.5 M 743.5 311.5 V 348.5 M 754.5 311.5 V 367.5 M 764.5 311.5 V 367.5 M 774.5 311.5 V 367.5 M 785.5 311.5 V 367.5 M 795.5 311.5 V 367.5 M 805.5 311.5 V 367.5 M 815.5 311.5 V 367.5 M 875.5 422.5 V 589.5 M 887.5 433.5 V 462.5 H 889.5 V 579.5 H 887.5 V 640.5 M 880.5 437.5 H 885.5 V 439.5 H 880.5 Z M 922.5 470.5 H 930.5 V 571.5 H 922.5 Z M 925.5 470.5 V 571.5 M 928.5 470.5 V 571.5 M 962.5 462.5 V 559.5 M 964.5 462.5 V 559.5 M 964.5 484.5 L 946.5 494.5 L 949.5 498.5 L 939.5 502.5 M 964.5 505.5 L 947.5 512.5 L 951.5 517.5 L 940.5 514.5 M 966.5 578.5 H 972.5 V 602.5 H 966.5 Z M 978.5 435.5 H 998.5 V 570.5 H 978.5 Z M 978.5 460.5 L 998.5 570.5 M 998.5 440.5 L 978.5 552.5 M 993.5 436.5 H 997.5 V 438.5 H 993.5 Z M 874.5 580.5 V 590.5 H 867.5 V 602.5 H 874.5 V 607.5 H 882.5 V 602.5 H 887.5 M 878.5 641.5 L 856.5 618.5 M 879.5 640.5 L 857.5 617.5 M 856.5 618.5 A 32 32 0 0 1 879.5 609.5 M 971.5 616.5 L 992.5 638.5 M 972.5 615.5 L 993.5 637.5 M 971.5 616.5 Q 980 608.5 992.5 607.5 M 1002.5 590.5 V 603.5 H 1011.5 V 590.5 M 1004.5 597.5 H 1009.5 M 1004.5 594.5 V 600.5 M 1009.5 594.5 V 600.5 M 889.5 472.5 H 922.5 M 930.5 472.5 H 962.5 M 889.5 482.5 H 922.5 M 930.5 482.5 H 962.5 M 889.5 491.5 H 922.5 M 930.5 491.5 H 962.5 M 889.5 501.5 H 922.5 M 930.5 501.5 H 962.5 M 889.5 511.5 H 922.5 M 930.5 511.5 H 962.5 M 889.5 521.5 H 922.5 M 930.5 521.5 H 962.5 M 889.5 530.5 H 922.5 M 930.5 530.5 H 962.5 M 889.5 540.5 H 922.5 M 930.5 540.5 H 962.5 M 889.5 549.5 H 922.5 M 930.5 549.5 H 962.5 M 889.5 559.5 H 922.5 M 930.5 559.5 H 962.5 M 889.5 569.5 H 922.5 M 930.5 569.5 H 962.5 M 1065.5 502.5 V 511.5 H 1070.5 V 506.5 H 1137.5 V 594.5 M 1065.5 506.5 H 1070.5 M 1069.5 511.5 H 1102.5 A 36 36 0 0 1 1066.5 542.5 M 1065.5 542.5 V 607.5 M 1070.5 542.5 V 598.5 M 1065.5 542.5 H 1070.5 M 1070.5 572.5 H 1136.5 V 593.5 H 1070.5 Z M 1105.5 572.5 V 593.5 M 1070.5 582.5 H 1136.5 M 1117.5 572.5 V 546.5 H 1136.5 M 1142.5 506.5 V 588.5 M 1144.5 501.5 V 537.5 M 1146.5 501.5 V 537.5 H 1144.5 M 1146.5 537.5 A 32 32 0 0 0 1178.5 505.5 M 1178.5 502.5 V 506.5 H 1208.5 V 588.5 M 1212.5 588.5 V 506.5 H 1279.5 V 511.5 H 1284.5 V 502.5 M 1279.5 506.5 H 1284.5 M 1142.5 567.5 H 1206.5 V 587.5 H 1142.5 M 1176.5 567.5 V 587.5 M 1142.5 577.5 H 1206.5 M 1188.5 567.5 V 541.5 H 1206.5 V 567.5 M 1213.5 567.5 H 1277.5 V 587.5 H 1213.5 Z M 1244.5 567.5 V 587.5 M 1213.5 577.5 H 1277.5 M 1213.5 541.5 H 1234.5 V 567.5 M 1248.5 512.5 A 33 33 0 0 0 1283.5 543.5 M 1248.5 511.5 H 1279.5 M 1280.5 543.5 V 588.5 M 1284.5 543.5 V 590.5 M 1280.5 543.5 H 1284.5 M 1142.5 589.5 H 1301.5 M 1070.5 598.5 H 1160.5 M 1137.5 594.5 H 1160.5 M 1311.5 566.5 L 1335.5 589.5 M 1312.5 564.5 L 1336.5 588.5 M 1311.5 566.5 A 33 33 0 0 0 1301.5 589.5 M 1300.5 587.5 H 1302.5 V 592.5 H 1300.5 Z" fill="none" stroke="#000" stroke-width="1" />
<path d="M1009 345.5 V381" fill="none" stroke="#000" stroke-width="1.4" />
<text transform="translate(1168.7 436.7) scale(0.6 1)" font-size="12" fill="#000" text-anchor="middle" font-weight="normal" stroke="#000" stroke-width="0.3">H</text>
<text transform="translate(938.9 362.3) scale(0.66 1)" font-size="13" fill="#000" text-anchor="middle" font-weight="normal" stroke="#000" stroke-width="0.3">BREAK</text>
<text transform="translate(938.9 375.1) scale(0.735 1)" font-size="14.6" fill="#000" text-anchor="middle" font-weight="normal" stroke="#000" stroke-width="0.3">OG621</text>
<text transform="translate(938.9 387.9) scale(0.796 1)" font-size="13" fill="#000" text-anchor="middle" font-weight="normal" stroke="#000" stroke-width="0.3">160740</text>
<text transform="translate(938.9 400.7) scale(0.824 1)" font-size="13" fill="#000" text-anchor="middle" font-weight="normal" stroke="#000" stroke-width="0.3">123 SF</text>
<text transform="translate(1062.8 337) scale(0.652 1)" font-size="13" fill="#000" text-anchor="middle" font-weight="normal" stroke="#000" stroke-width="0.3">OFFICE</text>
<text transform="translate(1062.8 349.8) scale(0.735 1)" font-size="14.6" fill="#000" text-anchor="middle" font-weight="normal" stroke="#000" stroke-width="0.3">OG622</text>
<text transform="translate(1062.8 362.6) scale(0.796 1)" font-size="13" fill="#000" text-anchor="middle" font-weight="normal" stroke="#000" stroke-width="0.3">160740</text>
<text transform="translate(1062.8 375.4) scale(0.83 1)" font-size="13" fill="#000" text-anchor="middle" font-weight="normal" stroke="#000" stroke-width="0.3">56 SF</text>
<text transform="translate(1079.5 396.2) scale(0.695 1)" font-size="13" fill="#000" text-anchor="middle" font-weight="normal" stroke="#000" stroke-width="0.3">LS</text>
<text transform="translate(1079.5 408.9) scale(0.735 1)" font-size="14.6" fill="#000" text-anchor="middle" font-weight="normal" stroke="#000" stroke-width="0.3">OG625</text>
<text transform="translate(1079.5 421.6) scale(0.796 1)" font-size="13" fill="#000" text-anchor="middle" font-weight="normal" stroke="#000" stroke-width="0.3">160740</text>
<text transform="translate(1079.5 434.3) scale(0.83 1)" font-size="13" fill="#000" text-anchor="middle" font-weight="normal" stroke="#000" stroke-width="0.3">21 SF</text>
<text transform="translate(1240.5 343.3) scale(0.683 1)" font-size="13" fill="#000" text-anchor="middle" font-weight="normal" stroke="#000" stroke-width="0.3">CONTROL FOR HDR</text>
<text transform="translate(1240.5 355.7) scale(0.735 1)" font-size="14.6" fill="#000" text-anchor="middle" font-weight="normal" stroke="#000" stroke-width="0.3">OG623</text>
<text transform="translate(1240.5 368.1) scale(0.796 1)" font-size="13" fill="#000" text-anchor="middle" font-weight="normal" stroke="#000" stroke-width="0.3">160740</text>
<text transform="translate(1240.5 380.5) scale(0.824 1)" font-size="13" fill="#000" text-anchor="middle" font-weight="normal" stroke="#000" stroke-width="0.3">267 SF</text>
<text transform="translate(1386.7 388) scale(0.63 1)" font-size="13" fill="#000" text-anchor="middle" font-weight="normal" stroke="#000" stroke-width="0.3">CONF</text>
<text transform="translate(1386.7 400.6) scale(0.735 1)" font-size="14.6" fill="#000" text-anchor="middle" font-weight="normal" stroke="#000" stroke-width="0.3">OG624</text>
<text transform="translate(1386.7 413.2) scale(0.796 1)" font-size="13" fill="#000" text-anchor="middle" font-weight="normal" stroke="#000" stroke-width="0.3">160740</text>
<text transform="translate(1386.7 425.8) scale(0.824 1)" font-size="13" fill="#000" text-anchor="middle" font-weight="normal" stroke="#000" stroke-width="0.3">190 SF</text>
<text transform="translate(924.4 492.9) scale(0.665 1)" font-size="13" fill="#000" text-anchor="middle" font-weight="normal" stroke="#000" stroke-width="0.3">STAIR</text>
<text transform="translate(924.4 505.4) scale(0.735 1)" font-size="14.6" fill="#000" text-anchor="middle" font-weight="normal" stroke="#000" stroke-width="0.3">OG626</text>
<text transform="translate(924.4 517.9) scale(0.796 1)" font-size="13" fill="#000" text-anchor="middle" font-weight="normal" stroke="#000" stroke-width="0.3">160002</text>
<text transform="translate(924.4 530.4) scale(0.824 1)" font-size="13" fill="#000" text-anchor="middle" font-weight="normal" stroke="#000" stroke-width="0.3">222 SF</text>
<text transform="translate(1039.7 472.9) scale(0.604 1)" font-size="13" fill="#000" text-anchor="middle" font-weight="normal" stroke="#000" stroke-width="0.3">CORRIDOR</text>
<text transform="translate(1039.7 485.4) scale(0.735 1)" font-size="14.6" fill="#000" text-anchor="middle" font-weight="normal" stroke="#000" stroke-width="0.3">OG627</text>
<text transform="translate(1039.7 497.9) scale(0.796 1)" font-size="13" fill="#000" text-anchor="middle" font-weight="normal" stroke="#000" stroke-width="0.3">160740</text>
<text transform="translate(1039.7 510.4) scale(0.824 1)" font-size="13" fill="#000" text-anchor="middle" font-weight="normal" stroke="#000" stroke-width="0.3">657 SF</text>
<text transform="translate(1106.4 532.5) scale(0.652 1)" font-size="13" fill="#000" text-anchor="middle" font-weight="normal" stroke="#000" stroke-width="0.3">OFFICE</text>
<text transform="translate(1106.4 545.3) scale(0.735 1)" font-size="14.6" fill="#000" text-anchor="middle" font-weight="normal" stroke="#000" stroke-width="0.3">OG628</text>
<text transform="translate(1106.4 558.1) scale(0.796 1)" font-size="13" fill="#000" text-anchor="middle" font-weight="normal" stroke="#000" stroke-width="0.3">160740</text>
<text transform="translate(1106.4 570.9) scale(0.83 1)" font-size="13" fill="#000" text-anchor="middle" font-weight="normal" stroke="#000" stroke-width="0.3">55 SF</text>
<text transform="translate(1174.3 534.8) scale(0.652 1)" font-size="13" fill="#000" text-anchor="middle" font-weight="normal" stroke="#000" stroke-width="0.3">OFFICE</text>
<text transform="translate(1174.3 547.55) scale(0.735 1)" font-size="14.6" fill="#000" text-anchor="middle" font-weight="normal" stroke="#000" stroke-width="0.3">OG629</text>
<text transform="translate(1174.3 560.3) scale(0.796 1)" font-size="13" fill="#000" text-anchor="middle" font-weight="normal" stroke="#000" stroke-width="0.3">160740</text>
<text transform="translate(1174.3 573.05) scale(0.83 1)" font-size="13" fill="#000" text-anchor="middle" font-weight="normal" stroke="#000" stroke-width="0.3">51 SF</text>
<text transform="translate(1248.7 534.8) scale(0.652 1)" font-size="13" fill="#000" text-anchor="middle" font-weight="normal" stroke="#000" stroke-width="0.3">OFFICE</text>
<text transform="translate(1248.7 547.55) scale(0.735 1)" font-size="14.6" fill="#000" text-anchor="middle" font-weight="normal" stroke="#000" stroke-width="0.3">OG630</text>
<text transform="translate(1248.7 560.3) scale(0.796 1)" font-size="13" fill="#000" text-anchor="middle" font-weight="normal" stroke="#000" stroke-width="0.3">160740</text>
<text transform="translate(1248.7 573.05) scale(0.83 1)" font-size="13" fill="#000" text-anchor="middle" font-weight="normal" stroke="#000" stroke-width="0.3">52 SF</text>
<text transform="translate(1405.5 559.2) scale(0.616 1)" font-size="13" fill="#000" text-anchor="middle" font-weight="normal" stroke="#000" stroke-width="0.3">DOS</text>
<text transform="translate(1405.5 571.9) scale(0.735 1)" font-size="14.6" fill="#000" text-anchor="middle" font-weight="normal" stroke="#000" stroke-width="0.3">OG638</text>
<text transform="translate(1405.5 584.6) scale(0.796 1)" font-size="13" fill="#000" text-anchor="middle" font-weight="normal" stroke="#000" stroke-width="0.3">160740</text>
<text transform="translate(1405.5 597.3) scale(0.824 1)" font-size="13" fill="#000" text-anchor="middle" font-weight="normal" stroke="#000" stroke-width="0.3">164 SF</text>
</g>
<g id="p10_w22">
<path d="M 698.5 713.5 H 713.5 V 727.5 H 698.5 Z M 703.5 717.5 h 4 v 4 h -4 z M 713.5 716.5 H 818.5 M 713.5 718.5 H 818.5 M 713.5 722.5 H 818.5 M 748.5 716.5 V 718.5 M 785.5 716.5 V 718.5 M 818.5 713.5 H 832.5 V 727.5 H 818.5 Z M 864.5 719.5 L 842.5 695.5 M 863.5 721.5 L 841.5 696.5 M 842.5 695.5 A 33 33 0 0 0 832.5 714.5 M 867.5 713.5 H 874.5 M 867.5 713.5 V 727.5 H 874.5 M 874.5 642.5 V 716.5 M 882.5 651.5 V 716.5 M 993.5 684.5 V 716.5 M 995.5 684.5 V 716.5 M 993.5 684.5 H 995.5 M 994.5 652.5 L 971.5 674.5 M 996.5 653.5 L 972.5 676.5 M 971.5 674.5 A 32.5 32.5 0 0 0 994.5 684.5 M 996.5 692.5 H 1010.5 Q 1012.6 692.3 1012.5 695.5 V 704.5 Q 1012.6 707.3 1010.5 707.5 H 996.5 Z M 1005.5 694.5 h 5.5 v 10.5 h -5.5 z M 1003.5 713.5 A 7 7 0 0 1 1003.5 727.5 M 893.5 734.5 H 992.5 V 796.5 H 893.5 Z M 893.5 734.5 L 992.5 796.5 M 992.5 734.5 L 893.5 796.5 M 893.5 801.5 H 998.5 M 893.5 805.5 H 998.5 M 893.5 881.5 V 813.5 H 991.5 V 881.5 M 893.5 813.5 L 991.5 876.5 M 991.5 813.5 L 920.5 859.5 M 994.5 813.5 V 881.5 M 997.5 813.5 V 881.5 M 1065.5 598.5 V 607.5 H 1070.5 M 1065.5 640.5 H 1070.5 V 706.5 M 1065.5 640.5 V 731.5 H 1078.5 V 881.5 M 1070.5 608.5 H 1100.5 M 1101.5 608.5 A 30.5 30.5 0 0 1 1070.5 640.5 M 1070.5 706.5 H 1087.5 V 712.5 H 1108.5 L 1082.5 738.5 V 881.5 M 1070.5 706.5 V 726.5 H 1082.5 V 732.5 L 1102.5 712.5 M 1090.5 708.5 H 1161.5 M 1108.5 712.5 H 1278.5 M 1160.5 590.5 V 708.5 M 1161.5 603.5 V 708.5 M 1110.5 599.5 H 1160.5 M 1110.5 599.5 V 620.5 H 1160.5 M 1110.5 610.5 H 1160.5 M 1140.5 620.5 V 661.5 H 1160.5 M 1150.5 620.5 V 661.5 M 1140.5 662.5 H 1159.5 V 701.5 H 1140.5 Z M 1161.5 591.5 H 1174.5 V 603.5 H 1161.5 Z M 1170.5 595.5 H 1283.5 M 1170.5 595.5 V 653.5 H 1190.5 V 657.5 H 1170.5 V 708.5 M 1222.5 595.5 V 657.5 M 1226.5 595.5 V 657.5 M 1222.5 657.5 H 1229.5 M 1260.5 653.5 H 1283.5 M 1260.5 657.5 H 1283.5 M 1260.5 653.5 V 657.5 M 1283.5 590.5 V 657.5 M 1279.5 595.5 V 653.5 M 1222.5 653.5 L 1201.5 637.5 M 1221.5 655.5 L 1200.5 638.5 M 1201.5 637.5 Q 1192 643 1190.5 653.5 M 1229.5 653.5 L 1251.5 634.5 M 1230.5 655.5 L 1252.5 636.5 M 1251.5 634.5 Q 1259 642 1260.5 653.5 M 1189.5 596.5 h -5 v 4.5 h 11 v -4.5 z M 1261.5 596.5 h -5 v 4.5 h 11 v -4.5 z M 1201.5 597.5 H 1216.5 V 607.5 H 1201.5 Z M 1203.5 599.5 H 1214.5 L 1212.5 605.5 H 1205.5 Z M 1233.5 597.5 H 1249.5 V 608.5 H 1233.5 Z M 1235.5 599.5 H 1246.5 L 1245.5 606.5 H 1237.5 Z M 1170.5 690.5 H 1283.5 V 794.5 M 1172.5 692.5 H 1275.5 V 707.5 H 1172.5 Z M 1258.5 712.5 V 792.5 H 1278.5 M 1268.5 712.5 V 792.5 M 1278.5 712.5 V 795.5 M 1284.5 590.5 H 1301.5 M 1279.5 795.5 H 1283.5 M 1279.5 795.5 L 1249.5 825.5 M 1249.5 825.5 Q 1258 836 1278.5 837.5 M 1264.5 842.5 Q 1268 838 1278.5 837.5 M 1279.5 857.5 L 1264.5 842.5 M 1278.5 857.5 H 1283.5 V 881.5 M 1278.5 857.5 V 881.5 M 1278.5 861.5 L 1259.5 880.5 M 1278.5 867.5 L 1266.5 878.5 H 1278.5 M 1066.5 878.5 H 1108.5 M 1108.5 878.5 H 1402.5 M 1082.5 854.5 L 1108.5 878.5 M 1078.5 858.5 L 1101.5 880.5 M 1180.5 879.5 H 1236.5 M 1335.5 592.5 V 631.5 M 1340.5 592.5 H 1344.5 V 620.5 H 1340.5 V 631.5 M 1335.5 631.5 H 1340.5 M 1341.5 631.5 Q 1358 634 1362.5 641.5 L 1340.5 667.5 L 1362.5 689.5 Q 1358 699 1341.5 702.5 M 1335.5 665.5 H 1340.5 V 671.5 H 1335.5 Z M 1340.5 666.5 H 1402.5 M 1340.5 669.5 H 1402.5 M 1383.5 665.5 V 644.5 H 1402.5 M 1383.5 670.5 V 691.5 H 1402.5 M 1383.5 680.5 H 1402.5 M 1335.5 702.5 V 772.5 M 1340.5 702.5 V 772.5 M 1335.5 702.5 H 1340.5 M 1340.5 716.5 H 1361.5 V 748.5 M 1351.5 716.5 V 748.5 M 1340.5 747.5 H 1391.5 M 1340.5 757.5 H 1402.5 M 1361.5 757.5 V 767.5 M 1392.5 747.5 V 767.5 M 1340.5 772.5 H 1402.5 M 1335.5 772.5 V 776.5 H 1340.5 M 1338.5 776.5 L 1362.5 798.5 A 31 31 0 0 1 1340.5 806.5 M 1335.5 806.5 H 1340.5 V 871.5 H 1402.5 M 1335.5 806.5 V 881.5 M 1335.5 875.5 H 1402.5 M 1340.5 875.5 V 881.5 M 1346.5 875.5 V 881.5 M 1350.5 875.5 V 881.5 M 1392.5 871.5 V 850.5 H 1402.5 M 1182.5 692.5 V 707.5 M 1193.5 692.5 V 707.5 M 1203.5 692.5 V 707.5 M 1244.5 692.5 V 707.5 M 1254.5 692.5 V 707.5 M 1265.5 692.5 V 707.5" fill="none" stroke="#000" stroke-width="1" />
<path d="M1340.8 767.2 H1402 M1258.7 764.5 H1277.7 V784.7 H1258.7 Z M1279.3 795.8 L1249.9 825.2 M1279.3 857.8 L1264.2 842.7 M1338.9 776.3 L1362 798.2 M1340.8 667.4 L1362.8 641.2 M1340.8 667.4 L1362.8 689.8" fill="none" stroke="#000" stroke-width="1.7" />
<path d="M 1261.5 767.5 H 1273.5 Q 1275.5 767 1275.5 770.5 V 779.5 Q 1275.5 782.5 1273.5 782.5 H 1261.5 Z" fill="none" stroke="#000" stroke-width="0.9" />
<circle cx="1266.2" cy="774.7" r="1" fill="none" stroke="#000" stroke-width="0.7"/>
<ellipse cx="1186" cy="607.5" rx="6.3" ry="9.5" fill="none" stroke="#000"/><ellipse cx="1264.2" cy="607.5" rx="6.3" ry="9.5" fill="none" stroke="#000"/>
<text transform="translate(1168 602.2) scale(0.6 1)" font-size="12" fill="#000" text-anchor="middle" font-weight="normal" stroke="#000" stroke-width="0.3">H</text>
<text transform="translate(931 673.6) scale(0.669 1)" font-size="13" fill="#000" text-anchor="middle" font-weight="normal" stroke="#000" stroke-width="0.3">ELEC</text>
<text transform="translate(931 686.2) scale(0.735 1)" font-size="14.6" fill="#000" text-anchor="middle" font-weight="normal" stroke="#000" stroke-width="0.3">OG634</text>
<text transform="translate(931 698.8) scale(0.796 1)" font-size="13" fill="#000" text-anchor="middle" font-weight="normal" stroke="#000" stroke-width="0.3">160441</text>
<text transform="translate(931 711.4) scale(0.83 1)" font-size="13" fill="#000" text-anchor="middle" font-weight="normal" stroke="#000" stroke-width="0.3">71 SF</text>
<text transform="translate(931 751.5) scale(0.684 1)" font-size="13" fill="#000" text-anchor="middle" font-weight="normal" stroke="#000" stroke-width="0.3">ELEV</text>
<text transform="translate(931 764.1) scale(0.735 1)" font-size="14.6" fill="#000" text-anchor="middle" font-weight="normal" stroke="#000" stroke-width="0.3">OG635</text>
<text transform="translate(931 776.7) scale(0.796 1)" font-size="13" fill="#000" text-anchor="middle" font-weight="normal" stroke="#000" stroke-width="0.3">160002</text>
<text transform="translate(931 789.3) scale(0.83 1)" font-size="13" fill="#000" text-anchor="middle" font-weight="normal" stroke="#000" stroke-width="0.3">81 SF</text>
<text transform="translate(951.7 828.5) scale(0.669 1)" font-size="13" fill="#000" text-anchor="middle" font-weight="normal" stroke="#000" stroke-width="0.3">ELEC</text>
<text transform="translate(951.7 840.9) scale(0.735 1)" font-size="14.6" fill="#000" text-anchor="middle" font-weight="normal" stroke="#000" stroke-width="0.3">OG636</text>
<text transform="translate(951.7 853.3) scale(0.796 1)" font-size="13" fill="#000" text-anchor="middle" font-weight="normal" stroke="#000" stroke-width="0.3">160002</text>
<text transform="translate(951.7 865.7) scale(0.83 1)" font-size="13" fill="#000" text-anchor="middle" font-weight="normal" stroke="#000" stroke-width="0.3">81 SF</text>
<text transform="translate(763.1 791.8) scale(0.604 1)" font-size="13" fill="#000" text-anchor="middle" font-weight="normal" stroke="#000" stroke-width="0.3">CORRIDOR</text>
<text transform="translate(763.1 804.6) scale(0.735 1)" font-size="14.6" fill="#000" text-anchor="middle" font-weight="normal" stroke="#000" stroke-width="0.3">OG678</text>
<text transform="translate(763.1 817.4) scale(0.796 1)" font-size="13" fill="#000" text-anchor="middle" font-weight="normal" stroke="#000" stroke-width="0.3">160002</text>
<text transform="translate(763.1 830.2) scale(0.824 1)" font-size="13" fill="#000" text-anchor="middle" font-weight="normal" stroke="#000" stroke-width="0.3">374 SF</text>
<text transform="translate(1112.7 644.4) scale(0.652 1)" font-size="13" fill="#000" text-anchor="middle" font-weight="normal" stroke="#000" stroke-width="0.3">OFFICE</text>
<text transform="translate(1112.7 657.1) scale(0.735 1)" font-size="14.6" fill="#000" text-anchor="middle" font-weight="normal" stroke="#000" stroke-width="0.3">OG631</text>
<text transform="translate(1112.7 669.8) scale(0.796 1)" font-size="13" fill="#000" text-anchor="middle" font-weight="normal" stroke="#000" stroke-width="0.3">160740</text>
<text transform="translate(1112.7 682.5) scale(0.83 1)" font-size="13" fill="#000" text-anchor="middle" font-weight="normal" stroke="#000" stroke-width="0.3">93 SF</text>
<text transform="translate(1209.3 615) scale(0.642 1)" font-size="13" fill="#000" text-anchor="middle" font-weight="normal" stroke="#000" stroke-width="0.3">TOIL</text>
<text transform="translate(1209.3 627.8) scale(0.735 1)" font-size="14.6" fill="#000" text-anchor="middle" font-weight="normal" stroke="#000" stroke-width="0.3">OG632</text>
<text transform="translate(1209.3 640.6) scale(0.796 1)" font-size="13" fill="#000" text-anchor="middle" font-weight="normal" stroke="#000" stroke-width="0.3">160740</text>
<text transform="translate(1209.3 653.4) scale(0.83 1)" font-size="13" fill="#000" text-anchor="middle" font-weight="normal" stroke="#000" stroke-width="0.3">28 SF</text>
<text transform="translate(1254.7 621.7) scale(0.642 1)" font-size="13" fill="#000" text-anchor="middle" font-weight="normal" stroke="#000" stroke-width="0.3">TOIL</text>
<text transform="translate(1254.7 634.3) scale(0.735 1)" font-size="14.6" fill="#000" text-anchor="middle" font-weight="normal" stroke="#000" stroke-width="0.3">OG633</text>
<text transform="translate(1254.7 646.9) scale(0.796 1)" font-size="13" fill="#000" text-anchor="middle" font-weight="normal" stroke="#000" stroke-width="0.3">160740</text>
<text transform="translate(1254.7 659.5) scale(0.83 1)" font-size="13" fill="#000" text-anchor="middle" font-weight="normal" stroke="#000" stroke-width="0.3">28 SF</text>
<text transform="translate(1226.7 672.9) scale(0.65 1)" font-size="13" fill="#000" text-anchor="middle" font-weight="normal" stroke="#000" stroke-width="0.3">DRESS</text>
<text transform="translate(1226.7 685.4) scale(0.722 1)" font-size="14.6" fill="#000" text-anchor="middle" font-weight="normal" stroke="#000" stroke-width="0.3">OG231C</text>
<text transform="translate(1226.7 697.9) scale(0.796 1)" font-size="13" fill="#000" text-anchor="middle" font-weight="normal" stroke="#000" stroke-width="0.3">160740</text>
<text transform="translate(1226.7 710.4) scale(0.83 1)" font-size="13" fill="#000" text-anchor="middle" font-weight="normal" stroke="#000" stroke-width="0.3">52 SF</text>
<text transform="translate(1143.5 818.2) scale(0.648 1)" font-size="13" fill="#000" text-anchor="middle" font-weight="normal" stroke="#000" stroke-width="0.3">SIMULATOR</text>
<text transform="translate(1143.5 830.6) scale(0.735 1)" font-size="14.6" fill="#000" text-anchor="middle" font-weight="normal" stroke="#000" stroke-width="0.3">OG637</text>
<text transform="translate(1143.5 843) scale(0.796 1)" font-size="13" fill="#000" text-anchor="middle" font-weight="normal" stroke="#000" stroke-width="0.3">160740</text>
<text transform="translate(1143.5 855.4) scale(0.824 1)" font-size="13" fill="#000" text-anchor="middle" font-weight="normal" stroke="#000" stroke-width="0.3">301 SF</text>
<text transform="translate(1396.5 712.3) scale(0.657 1)" font-size="13" fill="#000" text-anchor="middle" font-weight="normal" stroke="#000" stroke-width="0.3">PHYS</text>
<text transform="translate(1396.5 725.1) scale(0.735 1)" font-size="14.6" fill="#000" text-anchor="middle" font-weight="normal" stroke="#000" stroke-width="0.3">OG639</text>
<text transform="translate(1396.5 737.9) scale(0.796 1)" font-size="13" fill="#000" text-anchor="middle" font-weight="normal" stroke="#000" stroke-width="0.3">160740</text>
<text transform="translate(1396.5 750.7) scale(0.83 1)" font-size="13" fill="#000" text-anchor="middle" font-weight="normal" stroke="#000" stroke-width="0.3">99 SF</text>
<text transform="translate(1403.3 807.4) scale(0.623 1)" font-size="13" fill="#000" text-anchor="middle" font-weight="normal" stroke="#000" stroke-width="0.3">MOLD</text>
<text transform="translate(1403.3 820) scale(0.735 1)" font-size="14.6" fill="#000" text-anchor="middle" font-weight="normal" stroke="#000" stroke-width="0.3">OG640</text>
<text transform="translate(1403.3 832.6) scale(0.796 1)" font-size="13" fill="#000" text-anchor="middle" font-weight="normal" stroke="#000" stroke-width="0.3">160740</text>
<text transform="translate(1403.3 845.2) scale(0.83 1)" font-size="13" fill="#000" text-anchor="middle" font-weight="normal" stroke="#000" stroke-width="0.3">99 SF</text>
</g>
<g id="p50_hatch">
<clipPath id="hc"><polygon points="887.2,3 1245,3 1245,314.2 1335.8,314.2 1335.8,452.4 1284.2,452.4 1284.2,502.3 1065.7,502.3 1065.7,429.2 1104.4,429.2 1104.4,314.2 887.2,314.2"/></clipPath>
<path d="M885 -15.26 L1340 -454.56 M885 -2.85 L1340 -442.15 M885 9.56 L1340 -429.74 M885 21.97 L1340 -417.33 M885 34.38 L1340 -404.92 M885 46.79 L1340 -392.51 M885 59.20 L1340 -380.10 M885 71.61 L1340 -367.69 M885 84.02 L1340 -355.28 M885 96.43 L1340 -342.87 M885 108.84 L1340 -330.46 M885 121.25 L1340 -318.05 M885 133.66 L1340 -305.64 M885 146.07 L1340 -293.23 M885 158.48 L1340 -280.82 M885 170.89 L1340 -268.41 M885 183.30 L1340 -256.00 M885 195.71 L1340 -243.59 M885 208.12 L1340 -231.18 M885 220.53 L1340 -218.77 M885 232.94 L1340 -206.36 M885 245.35 L1340 -193.95 M885 257.76 L1340 -181.54 M885 270.17 L1340 -169.13 M885 282.58 L1340 -156.72 M885 294.99 L1340 -144.31 M885 307.40 L1340 -131.90 M885 319.81 L1340 -119.49 M885 332.22 L1340 -107.08 M885 344.63 L1340 -94.67 M885 357.04 L1340 -82.26 M885 369.45 L1340 -69.85 M885 381.86 L1340 -57.44 M885 394.27 L1340 -45.03 M885 406.68 L1340 -32.62 M885 419.09 L1340 -20.21 M885 431.50 L1340 -7.80 M885 443.91 L1340 4.61 M885 456.32 L1340 17.02 M885 468.73 L1340 29.43 M885 481.14 L1340 41.84 M885 493.55 L1340 54.25 M885 505.96 L1340 66.66 M885 518.37 L1340 79.07 M885 530.78 L1340 91.48 M885 543.19 L1340 103.89 M885 555.60 L1340 116.30 M885 568.01 L1340 128.71 M885 580.42 L1340 141.12 M885 592.83 L1340 153.53 M885 605.24 L1340 165.94 M885 617.65 L1340 178.35 M885 630.06 L1340 190.76 M885 642.47 L1340 203.17 M885 654.88 L1340 215.58 M885 667.29 L1340 227.99 M885 679.70 L1340 240.40 M885 692.11 L1340 252.81 M885 704.52 L1340 265.22 M885 716.93 L1340 277.63 M885 729.34 L1340 290.04 M885 741.75 L1340 302.45 M885 754.16 L1340 314.86 M885 766.57 L1340 327.27 M885 778.98 L1340 339.68 M885 791.39 L1340 352.09 M885 803.80 L1340 364.50 M885 816.21 L1340 376.91 M885 828.62 L1340 389.32 M885 841.03 L1340 401.73 M885 853.44 L1340 414.14 M885 865.85 L1340 426.55 M885 878.26 L1340 438.96 M885 890.67 L1340 451.37 M885 903.08 L1340 463.78 M885 915.49 L1340 476.19 M885 927.90 L1340 488.60 M885 940.31 L1340 501.01 M885 952.72 L1340 513.42 M885 965.13 L1340 525.83 M885 977.54 L1340 538.24 M885 989.95 L1340 550.65 M885 1002.36 L1340 563.06 M885 1014.77 L1340 575.47 M885 1027.18 L1340 587.88 " stroke="#ff4500" stroke-width="1.05" fill="none" clip-path="url(#hc)"/>
<polygon points="887.2,3 1245,3 1245,314.2 1335.8,314.2 1335.8,452.4 1284.2,452.4 1284.2,502.3 1065.7,502.3 1065.7,429.2 1104.4,429.2 1104.4,314.2 887.2,314.2" fill="none" stroke="#ff4500" stroke-width="1.1" />
</g>
<g id="p60_dashes">
<line x1="325.8" y1="107" x2="325.933" y2="150" stroke="#0000ff" stroke-width="10.6" />
<line x1="325.996" y1="170.3" x2="326.106" y2="205.6" stroke="#0000ff" stroke-width="10.6" />
<line x1="326.17" y1="226.399" x2="326.28" y2="261.699" stroke="#0000ff" stroke-width="10.6" />
<line x1="326.344" y1="282.499" x2="326.454" y2="317.799" stroke="#0000ff" stroke-width="10.6" />
<line x1="326.518" y1="338.599" x2="326.628" y2="373.899" stroke="#0000ff" stroke-width="10.6" />
<line x1="326.692" y1="394.699" x2="326.802" y2="429.998" stroke="#0000ff" stroke-width="10.6" />
<line x1="326.866" y1="450.798" x2="326.975" y2="486.098" stroke="#0000ff" stroke-width="10.6" />
<line x1="327.04" y1="506.898" x2="327.149" y2="542.198" stroke="#0000ff" stroke-width="10.6" />
<line x1="327.214" y1="562.998" x2="327.323" y2="598.298" stroke="#0000ff" stroke-width="10.6" />
<line x1="327.388" y1="619.098" x2="327.497" y2="654.397" stroke="#0000ff" stroke-width="10.6" />
<line x1="327.562" y1="675.197" x2="327.671" y2="710.497" stroke="#0000ff" stroke-width="10.6" />
<line x1="327.736" y1="731.297" x2="327.845" y2="766.597" stroke="#0000ff" stroke-width="10.6" />
<line x1="327.91" y1="787.397" x2="328.019" y2="822.697" stroke="#0000ff" stroke-width="10.6" />
<line x1="328.084" y1="843.496" x2="328.193" y2="878.796" stroke="#0000ff" stroke-width="10.6" />
<line x1="328.258" y1="899.596" x2="328.367" y2="934.896" stroke="#0000ff" stroke-width="10.6" />
<line x1="320" y1="112.6" x2="352.5" y2="112.6" stroke="#0000ff" stroke-width="11" />
<line x1="373.7" y1="112.6" x2="400" y2="112.6" stroke="#0000ff" stroke-width="11" />
<line x1="400.5" y1="17" x2="400.5" y2="53" stroke="#0000ff" stroke-width="11" />
<line x1="400.5" y1="75" x2="400.5" y2="106" stroke="#0000ff" stroke-width="11" />
<line x1="400.5" y1="107" x2="400.5" y2="118" stroke="#0000ff" stroke-width="11" />
<line x1="395" y1="22.2" x2="418.6" y2="22.2" stroke="#0000ff" stroke-width="10.5" />
<line x1="440.4" y1="22.2" x2="459" y2="22.2" stroke="#0000ff" stroke-width="10.5" />
<line x1="101.6" y1="878" x2="120.6" y2="878" stroke="#0000ff" stroke-width="7.5" />
<line x1="142.6" y1="878" x2="177.1" y2="878" stroke="#0000ff" stroke-width="7.5" />
<line x1="198.1" y1="878" x2="232.6" y2="878" stroke="#0000ff" stroke-width="7.5" />
<line x1="254.1" y1="878" x2="288.6" y2="878" stroke="#0000ff" stroke-width="7.5" />
<line x1="311.1" y1="878" x2="333.6" y2="878" stroke="#0000ff" stroke-width="7.5" />
<line x1="878" y1="726" x2="878" y2="762.2" stroke="#0000ff" stroke-width="8.8" />
<line x1="878" y1="784.7" x2="878" y2="819.5" stroke="#0000ff" stroke-width="8.8" />
<line x1="878" y1="841.3" x2="878" y2="881" stroke="#0000ff" stroke-width="8.8" />
<line x1="408.7" y1="27" x2="408.7" y2="70" stroke="#ff0000" stroke-width="10" />
<line x1="408.7" y1="97.3" x2="408.7" y2="123.6" stroke="#ff0000" stroke-width="10" />
<line x1="408.7" y1="151" x2="408.7" y2="194" stroke="#ff0000" stroke-width="10" />
<line x1="406" y1="32.2" x2="456" y2="32.2" stroke="#ff0000" stroke-width="10.5" />
<line x1="408" y1="194.3" x2="461.6" y2="194.3" stroke="#ff0000" stroke-width="11.2" />
<line x1="489" y1="194.3" x2="529" y2="194.3" stroke="#ff0000" stroke-width="11.2" />
<line x1="472.3" y1="731.6" x2="501" y2="731.6" stroke="#ff0000" stroke-width="11.3" />
<line x1="527.2" y1="731.6" x2="553.4" y2="731.6" stroke="#ff0000" stroke-width="11.3" />
<line x1="580.2" y1="731.6" x2="607.1" y2="731.6" stroke="#ff0000" stroke-width="11.3" />
<line x1="634.6" y1="731.6" x2="662" y2="731.6" stroke="#ff0000" stroke-width="11.3" />
<rect x="472.3" y="718.6" width="11.3" height="13.4" fill="#ff0000" />
<rect x="652" y="711.6" width="10" height="20.4" fill="#ff0000" />
<line x1="880" y1="427.5" x2="912.4" y2="427.5" stroke="#ff0000" stroke-width="11" />
<line x1="939" y1="427.5" x2="1011.5" y2="427.5" stroke="#ff0000" stroke-width="11" />
<line x1="971" y1="433" x2="971" y2="462" stroke="#ff0000" stroke-width="11.5" />
<line x1="971" y1="490.4" x2="971" y2="516" stroke="#ff0000" stroke-width="11.5" />
<line x1="971" y1="542.8" x2="971" y2="581" stroke="#ff0000" stroke-width="11.5" />
<line x1="1005.8" y1="433" x2="1005.8" y2="460" stroke="#ff0000" stroke-width="11.3" />
<line x1="1005.8" y1="487.4" x2="1005.8" y2="516" stroke="#ff0000" stroke-width="11.3" />
<line x1="1005.8" y1="541" x2="1005.8" y2="581" stroke="#ff0000" stroke-width="11.3" />
<line x1="965.3" y1="576.3" x2="1011.5" y2="576.3" stroke="#ff0000" stroke-width="10.7" />
<line x1="997" y1="581" x2="997" y2="597.5" stroke="#ff0000" stroke-width="10.5" />
<line x1="997" y1="625" x2="997" y2="651" stroke="#ff0000" stroke-width="10.5" />
<line x1="877.9" y1="645.5" x2="897.3" y2="645.5" stroke="#ff0000" stroke-width="11" />
<line x1="924.3" y1="645.5" x2="951.7" y2="645.5" stroke="#ff0000" stroke-width="11" />
<line x1="978.5" y1="645.5" x2="1002.2" y2="645.5" stroke="#ff0000" stroke-width="11" />
<line x1="882.3" y1="721.6" x2="905.6" y2="721.6" stroke="#ff0000" stroke-width="11.3" />
<line x1="932.3" y1="721.6" x2="958.5" y2="721.6" stroke="#ff0000" stroke-width="11.3" />
<line x1="985.2" y1="721.6" x2="1008.9" y2="721.6" stroke="#ff0000" stroke-width="11.3" />
<line x1="887.6" y1="727" x2="887.6" y2="738.5" stroke="#ff0000" stroke-width="10.9" />
<line x1="887.6" y1="767.2" x2="887.6" y2="793" stroke="#ff0000" stroke-width="10.9" />
<line x1="887.6" y1="820" x2="887.6" y2="845.7" stroke="#ff0000" stroke-width="10.9" />
<line x1="887.6" y1="874" x2="887.6" y2="881" stroke="#ff0000" stroke-width="10.9" />
<line x1="1003.6" y1="727" x2="1003.6" y2="739.8" stroke="#ff0000" stroke-width="10.4" />
<line x1="1003.6" y1="767.2" x2="1003.6" y2="793" stroke="#ff0000" stroke-width="10.4" />
<line x1="1003.6" y1="820" x2="1003.6" y2="845.7" stroke="#ff0000" stroke-width="10.4" />
<line x1="1003.6" y1="874" x2="1003.6" y2="881" stroke="#ff0000" stroke-width="10.4" />
<text transform="translate(363.5 117) scale(0.8 1)" font-size="11.5" fill="#0000ff" text-anchor="middle" font-weight="normal" >SB</text>
<text transform="translate(430 26.5) scale(0.8 1)" font-size="11.5" fill="#0000ff" text-anchor="middle" font-weight="normal" >SB</text>
<text transform="translate(396.5 64) rotate(90) scale(0.8 1)" font-size="11.5" fill="#0000ff" text-anchor="middle" font-weight="normal" >SB</text>
<text transform="translate(322 160.5) rotate(90) scale(0.8 1)" font-size="11.5" fill="#0000ff" text-anchor="middle" font-weight="normal" >SB</text>
<text transform="translate(322.16 216.6) rotate(90) scale(0.8 1)" font-size="11.5" fill="#0000ff" text-anchor="middle" font-weight="normal" >SB</text>
<text transform="translate(322.32 272.7) rotate(90) scale(0.8 1)" font-size="11.5" fill="#0000ff" text-anchor="middle" font-weight="normal" >SB</text>
<text transform="translate(322.48 328.8) rotate(90) scale(0.8 1)" font-size="11.5" fill="#0000ff" text-anchor="middle" font-weight="normal" >SB</text>
<text transform="translate(322.64 384.9) rotate(90) scale(0.8 1)" font-size="11.5" fill="#0000ff" text-anchor="middle" font-weight="normal" >SB</text>
<text transform="translate(322.8 441) rotate(90) scale(0.8 1)" font-size="11.5" fill="#0000ff" text-anchor="middle" font-weight="normal" >SB</text>
<text transform="translate(322.96 497.1) rotate(90) scale(0.8 1)" font-size="11.5" fill="#0000ff" text-anchor="middle" font-weight="normal" >SB</text>
<text transform="translate(323.12 553.2) rotate(90) scale(0.8 1)" font-size="11.5" fill="#0000ff" text-anchor="middle" font-weight="normal" >SB</text>
<text transform="translate(323.28 609.3) rotate(90) scale(0.8 1)" font-size="11.5" fill="#0000ff" text-anchor="middle" font-weight="normal" >SB</text>
<text transform="translate(323.44 665.4) rotate(90) scale(0.8 1)" font-size="11.5" fill="#0000ff" text-anchor="middle" font-weight="normal" >SB</text>
<text transform="translate(323.6 721.5) rotate(90) scale(0.8 1)" font-size="11.5" fill="#0000ff" text-anchor="middle" font-weight="normal" >SB</text>
<text transform="translate(323.76 777.6) rotate(90) scale(0.8 1)" font-size="11.5" fill="#0000ff" text-anchor="middle" font-weight="normal" >SB</text>
<text transform="translate(323.92 833.7) rotate(90) scale(0.8 1)" font-size="11.5" fill="#0000ff" text-anchor="middle" font-weight="normal" >SB</text>
<text transform="translate(324.08 889.8) rotate(90) scale(0.8 1)" font-size="11.5" fill="#0000ff" text-anchor="middle" font-weight="normal" >SB</text>
<text transform="translate(132 882.5) scale(0.8 1)" font-size="11.5" fill="#0000ff" text-anchor="middle" font-weight="normal" >SB</text>
<text transform="translate(188 882.5) scale(0.8 1)" font-size="11.5" fill="#0000ff" text-anchor="middle" font-weight="normal" >SB</text>
<text transform="translate(243.5 882.5) scale(0.8 1)" font-size="11.5" fill="#0000ff" text-anchor="middle" font-weight="normal" >SB</text>
<text transform="translate(299.5 882.5) scale(0.8 1)" font-size="11.5" fill="#0000ff" text-anchor="middle" font-weight="normal" >SB</text>
<text transform="translate(882 774.7) rotate(-90) scale(0.8 1)" font-size="11.5" fill="#0000ff" text-anchor="middle" font-weight="normal" >SB</text>
<text transform="translate(882 831) rotate(-90) scale(0.8 1)" font-size="11.5" fill="#0000ff" text-anchor="middle" font-weight="normal" >SB</text>
<text transform="translate(404.7 84) rotate(90) scale(0.8 1)" font-size="11.5" fill="#ff0000" text-anchor="middle" font-weight="normal" >2HR</text>
<text transform="translate(404.7 137.5) rotate(90) scale(0.8 1)" font-size="11.5" fill="#ff0000" text-anchor="middle" font-weight="normal" >2HR</text>
<text transform="translate(475.5 198) scale(0.8 1)" font-size="11.5" fill="#ff0000" text-anchor="middle" font-weight="normal" >2HR</text>
<text transform="translate(517.2 735.6) scale(0.8 1)" font-size="11.5" fill="#ff0000" text-anchor="middle" font-weight="normal" >2HR</text>
<text transform="translate(567.7 735.6) scale(0.8 1)" font-size="11.5" fill="#ff0000" text-anchor="middle" font-weight="normal" >2HR</text>
<text transform="translate(620.8 735.6) scale(0.8 1)" font-size="11.5" fill="#ff0000" text-anchor="middle" font-weight="normal" >2HR</text>
<text transform="translate(926 431.5) scale(0.8 1)" font-size="11.5" fill="#ff0000" text-anchor="middle" font-weight="normal" >2HR</text>
<text transform="translate(911 649.5) scale(0.8 1)" font-size="11.5" fill="#ff0000" text-anchor="middle" font-weight="normal" >2HR</text>
<text transform="translate(964.2 649.5) scale(0.8 1)" font-size="11.5" fill="#ff0000" text-anchor="middle" font-weight="normal" >2HR</text>
<text transform="translate(967 476) rotate(90) scale(0.8 1)" font-size="11.5" fill="#ff0000" text-anchor="middle" font-weight="normal" >2HR</text>
<text transform="translate(967 529.5) rotate(90) scale(0.8 1)" font-size="11.5" fill="#ff0000" text-anchor="middle" font-weight="normal" >2HR</text>
<text transform="translate(1001.8 474) rotate(90) scale(0.8 1)" font-size="11.5" fill="#ff0000" text-anchor="middle" font-weight="normal" >2HR</text>
<text transform="translate(1001.8 527.5) rotate(90) scale(0.8 1)" font-size="11.5" fill="#ff0000" text-anchor="middle" font-weight="normal" >2HR</text>
<text transform="translate(993.2 611.7) rotate(90) scale(0.8 1)" font-size="11.5" fill="#ff0000" text-anchor="middle" font-weight="normal" >2HR</text>
<text transform="translate(919 725.6) scale(0.8 1)" font-size="11.5" fill="#ff0000" text-anchor="middle" font-weight="normal" >2HR</text>
<text transform="translate(972 725.6) scale(0.8 1)" font-size="11.5" fill="#ff0000" text-anchor="middle" font-weight="normal" >2HR</text>
<text transform="translate(883.6 752.2) rotate(90) scale(0.8 1)" font-size="11.5" fill="#ff0000" text-anchor="middle" font-weight="normal" >2HR</text>
<text transform="translate(883.6 806.7) rotate(90) scale(0.8 1)" font-size="11.5" fill="#ff0000" text-anchor="middle" font-weight="normal" >2HR</text>
<text transform="translate(883.6 860) rotate(90) scale(0.8 1)" font-size="11.5" fill="#ff0000" text-anchor="middle" font-weight="normal" >2HR</text>
<text transform="translate(1007.6 752.2) rotate(-90) scale(0.8 1)" font-size="11.5" fill="#ff0000" text-anchor="middle" font-weight="normal" >2HR</text>
<text transform="translate(1007.6 806.7) rotate(-90) scale(0.8 1)" font-size="11.5" fill="#ff0000" text-anchor="middle" font-weight="normal" >2HR</text>
<text transform="translate(1007.6 860) rotate(-90) scale(0.8 1)" font-size="11.5" fill="#ff0000" text-anchor="middle" font-weight="normal" >2HR</text>
</g>
<g id="p70_markers">
<polygon points="444.4,213.4 490.3,213.4 490.3,240 513,240 467.3,293 421,240 444.4,240" fill="#ff0000" stroke="#ff0000" stroke-width="0" />
<polygon points="497.3,520.6 544,573.5 521,573.5 521,601 474.3,601 474.3,573.5 451.6,573.5" fill="#ff0000" stroke="#ff0000" stroke-width="0" />
<polygon points="764,622.5 818,576 818,599.5 844.4,599.5 844.4,645.4 818,645.4 818,668.6" fill="#ff0000" stroke="#ff0000" stroke-width="0" />
<rect x="244.8" y="58.5" width="54.3" height="40.1" fill="#ff0000" />
<text transform="translate(273.2 87.4) scale(0.97 1)" font-size="28" fill="#e2e2e2" text-anchor="middle" font-weight="bold" >HZ</text>
<rect x="221.6" y="194" width="54.3" height="40.1" fill="#ff0000" />
<text transform="translate(250 222.9) scale(0.97 1)" font-size="28" fill="#e2e2e2" text-anchor="middle" font-weight="bold" >HZ</text>
<text transform="translate(594 131.5) scale(0.7 1)" font-size="74" fill="#000" text-anchor="middle" font-weight="bold" >S</text>
<text transform="translate(929.8 614) scale(0.66 1)" font-size="73" fill="#000" text-anchor="middle" font-weight="bold" >U</text>
<text transform="translate(611.6 712.3) scale(0.7 1)" font-size="74" fill="#000" text-anchor="middle" font-weight="bold" >T</text>
<circle cx="54.5" cy="162" r="9.5" fill="#ff0000"/>
<line x1="44" y1="170" x2="32" y2="178" stroke="#ff0000" stroke-width="2.2" />
<line x1="26" y1="182" x2="5" y2="191" stroke="#ff0000" stroke-width="2.2" />
<path d="M138.3 5.5 V431 Q138.3 455.3 113 455.3 H0" fill="none" stroke="#1414ff" stroke-width="2.2" stroke-dasharray="29 10.5"/>
<rect x="100.5" y="219.5" width="34.5" height="66.5" fill="none" stroke="#1414ff" stroke-width="1" />
<text transform="translate(128.7 252.5) rotate(-90) scale(0.76 1)" font-size="28" fill="#1414ff" text-anchor="middle" font-weight="normal" >103'</text>
</g>
<g id="p90_toolbar">
<rect x="466" y="874.5" width="93" height="6.5" fill="#000" />
<rect x="557.8" y="853" width="501.7" height="40" rx="5" fill="#1d1d1d"/>
<rect x="744.7" y="863.5" width="71.8" height="17.5" fill="#222222" />
<polygon points="580.6,867.6 592,878.6 586.6,879.2 585,884 580.6,884" fill="#2aaef5" stroke="#2aaef5" stroke-width="0" />
<path d="M617 881 L613.8 876.6 Q613.2 875 614.8 874.8 Q616 874.8 617 876 L618.6 877.6 V870 Q618.6 868.6 619.9 868.6 Q621.2 868.6 621.2 870 V875 V868.4 Q621.2 867 622.6 867 Q624 867 624 868.4 V875 V868 Q624 866.8 625.4 866.8 Q626.8 866.8 626.8 868 V875 V869.2 Q626.8 868 628.2 868 Q629.6 868 629.6 869.2 V875.5 V871.6 Q629.6 870.4 631 870.4 Q632.4 870.4 632.4 871.6 V878 Q632.4 880 631.6 882" fill="none" stroke="#ffffff" stroke-width="1.7" stroke-linejoin="round" stroke-linecap="round"/>
<line x1="651.4" y1="864.5" x2="651.4" y2="881" stroke="#4d4d4d" stroke-width="1" />
<line x1="871.8" y1="864.5" x2="871.8" y2="881" stroke="#4d4d4d" stroke-width="1" />
<line x1="1004.4" y1="864.5" x2="1004.4" y2="881" stroke="#4d4d4d" stroke-width="1" />
<circle cx="678.5" cy="877.5" r="9.5" fill="none" stroke="#ffffff" stroke-width="1.9"/>
<line x1="673.3" y1="877.5" x2="683.7" y2="877.5" stroke="#ffffff" stroke-width="1.9" />
<circle cx="717.8" cy="877.5" r="9.5" fill="none" stroke="#ffffff" stroke-width="1.9"/>
<line x1="712.6" y1="877.5" x2="723" y2="877.5" stroke="#ffffff" stroke-width="1.9" />
<line x1="717.8" y1="872.3" x2="717.8" y2="881" stroke="#ffffff" stroke-width="1.9" />
<text transform="translate(769.2 880.4) scale(0.97 1)" font-size="11" fill="#ffffff" text-anchor="middle" font-weight="normal" >300%</text>
<polygon points="802.6,876.2 809.6,876.2 806.1,880.2" fill="#ffffff" stroke="#ffffff" stroke-width="0" />
<path d="M840.5 868.2 H848.6 L854.5 874 V882 M848.2 868.2 V874.4 H854.5 M840.5 868.2 V882 M837 872.5 V882 M837 872.5 H840.5" fill="none" stroke="#ffffff" stroke-width="1.8" />
<path d="M891 866.3 V873.6 H905.9 V866.3 M891 882 V877.8 H900.5 L905.9 882" fill="none" stroke="#ffffff" stroke-width="1.8" />
<path d="M930 882 V867.8 H940.5 L946.3 873.5 V882 M940 867.8 V874 H946.3" fill="none" stroke="#ffffff" stroke-width="1.8" />
<path d="M938 876.5 V882 M935.8 878.3 L938 876.2 L940.2 878.3 M933.5 881 H942.5" fill="none" stroke="#ffffff" stroke-width="1.3" />
<path d="M968.2 882 V868.2 H986.2 V882" fill="none" stroke="#ffffff" stroke-width="1.8" />
<path d="M980.5 871.5 H983.3 V874.3 M983 871.8 L976.5 878.3" fill="none" stroke="#ffffff" stroke-width="1.8" />
<polygon points="978.8,870.3 984.3,870.3 984.3,875.8" fill="#ffffff" stroke="#ffffff" stroke-width="0" />
<polygon points="970.2,878.5 975.5,881.5 970.2,881.5" fill="#ffffff" stroke="#ffffff" stroke-width="0" />
<path d="M1031.7 868.5 V877.5 M1026.3 873.3 L1031.7 867.9 L1037.1 873.3" fill="none" stroke="#ffffff" stroke-width="1.9" />
<rect x="1021" y="879" width="21.7" height="4" rx="1" fill="#ffffff"/>
</g>
</svg>
</body></html>
